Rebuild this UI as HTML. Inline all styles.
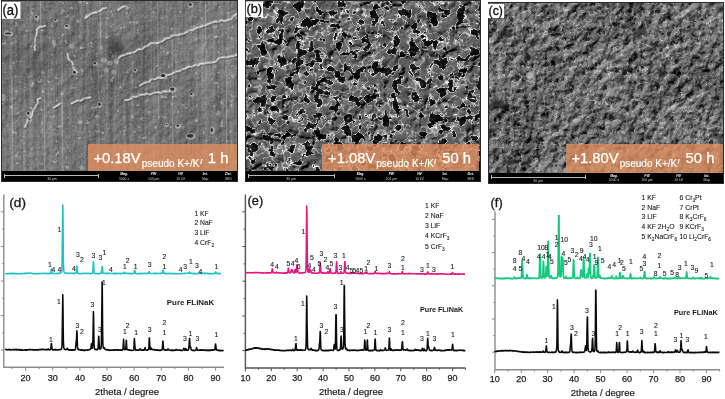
<!DOCTYPE html>
<html><head><meta charset="utf-8"><title>SEM and XRD</title>
<style>
html,body{margin:0;padding:0;background:#fff;}
body{width:725px;height:399px;overflow:hidden;position:relative;font-family:"Liberation Sans",Arial,sans-serif;}
.abs{position:absolute;}
svg text{font-family:"Liberation Sans",Arial,sans-serif;}
.tl{font-size:9px;fill:#222;stroke:#222;stroke-width:0.25px;}
.tt{font-size:9.5px;fill:#222;stroke:#222;stroke-width:0.2px;}
.pl{font-size:6.8px;fill:#222;stroke:#222;stroke-width:0.12px;}
.pn{font-size:14px;fill:#1a1a1a;stroke:#1a1a1a;stroke-width:0.35px;}
.pf{font-weight:bold;fill:#1a1a1a;}
.lg text{font-size:6.8px;fill:#222;stroke:#222;stroke-width:0.12px;}
.sb{font-size:4.8px;}
</style></head><body>
<style>
.sem{position:absolute;overflow:hidden;background:#777;}
.abs{position:absolute;}
.bar{position:absolute;background:#000;}
.org{position:absolute;background:rgba(226,143,93,0.78);}
.om{font-family:"Liberation Sans",sans-serif;font-size:14.8px;fill:#fff;stroke:#fff;stroke-width:0.25px;}
.os{font-family:"Liberation Sans",sans-serif;font-size:10px;fill:#fff;stroke:#fff;stroke-width:0.15px;}
.lb{font-family:"Liberation Sans",sans-serif;fill:#111;stroke:#111;stroke-width:0.35px;}
.ot{position:absolute;color:#fff;font-family:"Liberation Sans",sans-serif;white-space:nowrap;font-size:14px;line-height:16px;}
.ot span{font-size:9.6px;position:relative;top:3.5px;}
.lab{position:absolute;background:#fff;color:#111;font-family:"Liberation Sans",sans-serif;font-size:14px;line-height:15px;text-align:center;}
.inf{position:absolute;color:#cfcfcf;font-family:"Liberation Sans",sans-serif;font-size:3.4px;line-height:4.3px;text-align:center;white-space:nowrap;}
.inf b{color:#fff;font-style:italic;}
.sbar{position:absolute;height:1px;background:#bbb;}
.brd{position:absolute;border:1px solid #2a2a2a;box-sizing:border-box;}
</style>
<svg class="abs" style="left:1px;top:0" width="237" height="171" viewBox="1 0 237 171">
<defs><filter id="fa" x="0" y="0" width="100%" height="100%" color-interpolation-filters="sRGB">
  <feTurbulence type="fractalNoise" baseFrequency="0.3 0.006" numOctaves="3" seed="4"/>
  <feColorMatrix type="matrix" values="1 0 0 0 0  1 0 0 0 0  1 0 0 0 0  0 0 0 0 1"/>
  <feComponentTransfer result="st"><feFuncR type="table" tableValues="0.390 0.393 0.396 0.398 0.401 0.404 0.407 0.409 0.412 0.415 0.417 0.420 0.423 0.426 0.428 0.431 0.434 0.437 0.440 0.442 0.445 0.448 0.451 0.453 0.456 0.459 0.462 0.464 0.467 0.470 0.473 0.475 0.478 0.481 0.483 0.486 0.489 0.492 0.494 0.497 0.500 0.503 0.505 0.508 0.511 0.514 0.516 0.519 0.522 0.525 0.527 0.530 0.533 0.536 0.538 0.541 0.544 0.547 0.549 0.552 0.555 0.558 0.560 0.563 0.566 0.569 0.572 0.574 0.577 0.580 0.583 0.585 0.588 0.591 0.594 0.596 0.599 0.602 0.605 0.607 0.610"/><feFuncG type="table" tableValues="0.390 0.393 0.396 0.398 0.401 0.404 0.407 0.409 0.412 0.415 0.417 0.420 0.423 0.426 0.428 0.431 0.434 0.437 0.440 0.442 0.445 0.448 0.451 0.453 0.456 0.459 0.462 0.464 0.467 0.470 0.473 0.475 0.478 0.481 0.483 0.486 0.489 0.492 0.494 0.497 0.500 0.503 0.505 0.508 0.511 0.514 0.516 0.519 0.522 0.525 0.527 0.530 0.533 0.536 0.538 0.541 0.544 0.547 0.549 0.552 0.555 0.558 0.560 0.563 0.566 0.569 0.572 0.574 0.577 0.580 0.583 0.585 0.588 0.591 0.594 0.596 0.599 0.602 0.605 0.607 0.610"/><feFuncB type="table" tableValues="0.390 0.393 0.396 0.398 0.401 0.404 0.407 0.409 0.412 0.415 0.417 0.420 0.423 0.426 0.428 0.431 0.434 0.437 0.440 0.442 0.445 0.448 0.451 0.453 0.456 0.459 0.462 0.464 0.467 0.470 0.473 0.475 0.478 0.481 0.483 0.486 0.489 0.492 0.494 0.497 0.500 0.503 0.505 0.508 0.511 0.514 0.516 0.519 0.522 0.525 0.527 0.530 0.533 0.536 0.538 0.541 0.544 0.547 0.549 0.552 0.555 0.558 0.560 0.563 0.566 0.569 0.572 0.574 0.577 0.580 0.583 0.585 0.588 0.591 0.594 0.596 0.599 0.602 0.605 0.607 0.610"/><feFuncA type="linear" slope="0" intercept="1"/></feComponentTransfer>
  <feTurbulence type="fractalNoise" baseFrequency="0.12" numOctaves="3" seed="9" result="m"/>
  <feColorMatrix in="m" type="matrix" values="0 0 0 0 0  0 0 0 0 0  0 0 0 0 0  1 0 0 0 0" result="ma"/>
  <feDiffuseLighting in="ma" surfaceScale="1.0" diffuseConstant="0.5" lighting-color="#fff" result="lit"><feDistantLight azimuth="225" elevation="55"/></feDiffuseLighting>
  <feTurbulence type="fractalNoise" baseFrequency="0.012" numOctaves="2" seed="17"/>
  <feColorMatrix type="matrix" values="1 0 0 0 0  1 0 0 0 0  1 0 0 0 0  0 0 0 0 1"/>
  <feComponentTransfer result="lo"><feFuncR type="table" tableValues="0.420 0.422 0.424 0.426 0.428 0.430 0.432 0.434 0.436 0.438 0.440 0.442 0.444 0.446 0.448 0.450 0.452 0.454 0.456 0.458 0.460 0.462 0.464 0.466 0.468 0.470 0.472 0.474 0.476 0.478 0.480 0.482 0.484 0.486 0.488 0.490 0.492 0.494 0.496 0.498 0.500 0.502 0.504 0.506 0.508 0.510 0.512 0.514 0.516 0.518 0.520 0.522 0.524 0.526 0.528 0.530 0.532 0.534 0.536 0.538 0.540 0.542 0.544 0.546 0.548 0.550 0.552 0.554 0.556 0.558 0.560 0.562 0.564 0.566 0.568 0.570 0.572 0.574 0.576 0.578 0.580"/><feFuncG type="table" tableValues="0.420 0.422 0.424 0.426 0.428 0.430 0.432 0.434 0.436 0.438 0.440 0.442 0.444 0.446 0.448 0.450 0.452 0.454 0.456 0.458 0.460 0.462 0.464 0.466 0.468 0.470 0.472 0.474 0.476 0.478 0.480 0.482 0.484 0.486 0.488 0.490 0.492 0.494 0.496 0.498 0.500 0.502 0.504 0.506 0.508 0.510 0.512 0.514 0.516 0.518 0.520 0.522 0.524 0.526 0.528 0.530 0.532 0.534 0.536 0.538 0.540 0.542 0.544 0.546 0.548 0.550 0.552 0.554 0.556 0.558 0.560 0.562 0.564 0.566 0.568 0.570 0.572 0.574 0.576 0.578 0.580"/><feFuncB type="table" tableValues="0.420 0.422 0.424 0.426 0.428 0.430 0.432 0.434 0.436 0.438 0.440 0.442 0.444 0.446 0.448 0.450 0.452 0.454 0.456 0.458 0.460 0.462 0.464 0.466 0.468 0.470 0.472 0.474 0.476 0.478 0.480 0.482 0.484 0.486 0.488 0.490 0.492 0.494 0.496 0.498 0.500 0.502 0.504 0.506 0.508 0.510 0.512 0.514 0.516 0.518 0.520 0.522 0.524 0.526 0.528 0.530 0.532 0.534 0.536 0.538 0.540 0.542 0.544 0.546 0.548 0.550 0.552 0.554 0.556 0.558 0.560 0.562 0.564 0.566 0.568 0.570 0.572 0.574 0.576 0.578 0.580"/><feFuncA type="linear" slope="0" intercept="1"/></feComponentTransfer>
  <feTurbulence type="fractalNoise" baseFrequency="0.5" numOctaves="2" seed="3"/>
  <feColorMatrix type="matrix" values="1 0 0 0 0  1 0 0 0 0  1 0 0 0 0  0 0 0 0 1"/>
  <feComponentTransfer result="sp"><feFuncR type="table" tableValues="0.420 0.422 0.424 0.426 0.428 0.430 0.432 0.434 0.436 0.438 0.440 0.442 0.444 0.446 0.448 0.450 0.452 0.454 0.456 0.458 0.460 0.462 0.464 0.466 0.468 0.470 0.472 0.474 0.476 0.478 0.480 0.482 0.484 0.486 0.488 0.490 0.492 0.494 0.496 0.498 0.500 0.502 0.504 0.506 0.508 0.510 0.512 0.514 0.516 0.518 0.520 0.522 0.524 0.526 0.528 0.530 0.532 0.534 0.536 0.538 0.540 0.542 0.544 0.546 0.548 0.550 0.552 0.554 0.556 0.558 0.560 0.562 0.564 0.566 0.568 0.570 0.572 0.574 0.576 0.578 0.580"/><feFuncG type="table" tableValues="0.420 0.422 0.424 0.426 0.428 0.430 0.432 0.434 0.436 0.438 0.440 0.442 0.444 0.446 0.448 0.450 0.452 0.454 0.456 0.458 0.460 0.462 0.464 0.466 0.468 0.470 0.472 0.474 0.476 0.478 0.480 0.482 0.484 0.486 0.488 0.490 0.492 0.494 0.496 0.498 0.500 0.502 0.504 0.506 0.508 0.510 0.512 0.514 0.516 0.518 0.520 0.522 0.524 0.526 0.528 0.530 0.532 0.534 0.536 0.538 0.540 0.542 0.544 0.546 0.548 0.550 0.552 0.554 0.556 0.558 0.560 0.562 0.564 0.566 0.568 0.570 0.572 0.574 0.576 0.578 0.580"/><feFuncB type="table" tableValues="0.420 0.422 0.424 0.426 0.428 0.430 0.432 0.434 0.436 0.438 0.440 0.442 0.444 0.446 0.448 0.450 0.452 0.454 0.456 0.458 0.460 0.462 0.464 0.466 0.468 0.470 0.472 0.474 0.476 0.478 0.480 0.482 0.484 0.486 0.488 0.490 0.492 0.494 0.496 0.498 0.500 0.502 0.504 0.506 0.508 0.510 0.512 0.514 0.516 0.518 0.520 0.522 0.524 0.526 0.528 0.530 0.532 0.534 0.536 0.538 0.540 0.542 0.544 0.546 0.548 0.550 0.552 0.554 0.556 0.558 0.560 0.562 0.564 0.566 0.568 0.570 0.572 0.574 0.576 0.578 0.580"/><feFuncA type="linear" slope="0" intercept="1"/></feComponentTransfer>
  <feComposite in="st" in2="lit" operator="arithmetic" k2="1" k3="1" k4="-0.46" result="a1"/>
  <feComposite in="a1" in2="lo" operator="arithmetic" k2="1" k3="1" k4="-0.5" result="a2"/>
  <feComposite in="a2" in2="sp" operator="arithmetic" k2="1" k3="1" k4="-0.5" result="a3"/>
  <feTurbulence type="fractalNoise" baseFrequency="0.2" numOctaves="2" seed="55"/>
  <feColorMatrix type="matrix" values="1 0 0 0 0  1 0 0 0 0  1 0 0 0 0  0 0 0 0 1"/>
  <feComponentTransfer result="hs"><feFuncR type="table" tableValues="0.000 0.000 0.000 0.000 0.000 0.000 0.000 0.000 0.000 0.000 0.000 0.000 0.000 0.000 0.000 0.000 0.000 0.000 0.000 0.000 0.000 0.000 0.000 0.000 0.000 0.000 0.000 0.000 0.000 0.000 0.000 0.000 0.000 0.000 0.000 0.000 0.000 0.000 0.000 0.000 0.000 0.000 0.000 0.000 0.000 0.000 0.000 0.000 0.000 0.000 0.000 0.000 0.000 0.000 0.000 0.019 0.050 0.081 0.112 0.144 0.154 0.159 0.163 0.168 0.173 0.178 0.183 0.188 0.192 0.197 0.202 0.207 0.212 0.216 0.221 0.226 0.231 0.236 0.240 0.245 0.250"/><feFuncG type="table" tableValues="0.000 0.000 0.000 0.000 0.000 0.000 0.000 0.000 0.000 0.000 0.000 0.000 0.000 0.000 0.000 0.000 0.000 0.000 0.000 0.000 0.000 0.000 0.000 0.000 0.000 0.000 0.000 0.000 0.000 0.000 0.000 0.000 0.000 0.000 0.000 0.000 0.000 0.000 0.000 0.000 0.000 0.000 0.000 0.000 0.000 0.000 0.000 0.000 0.000 0.000 0.000 0.000 0.000 0.000 0.000 0.019 0.050 0.081 0.112 0.144 0.154 0.159 0.163 0.168 0.173 0.178 0.183 0.188 0.192 0.197 0.202 0.207 0.212 0.216 0.221 0.226 0.231 0.236 0.240 0.245 0.250"/><feFuncB type="table" tableValues="0.000 0.000 0.000 0.000 0.000 0.000 0.000 0.000 0.000 0.000 0.000 0.000 0.000 0.000 0.000 0.000 0.000 0.000 0.000 0.000 0.000 0.000 0.000 0.000 0.000 0.000 0.000 0.000 0.000 0.000 0.000 0.000 0.000 0.000 0.000 0.000 0.000 0.000 0.000 0.000 0.000 0.000 0.000 0.000 0.000 0.000 0.000 0.000 0.000 0.000 0.000 0.000 0.000 0.000 0.000 0.019 0.050 0.081 0.112 0.144 0.154 0.159 0.163 0.168 0.173 0.178 0.183 0.188 0.192 0.197 0.202 0.207 0.212 0.216 0.221 0.226 0.231 0.236 0.240 0.245 0.250"/><feFuncA type="linear" slope="0" intercept="1"/></feComponentTransfer>
  <feComposite in="a3" in2="hs" operator="arithmetic" k2="1" k3="1"/>
  <feGaussianBlur stdDeviation="0.4"/>
  <feComponentTransfer><feFuncA type="linear" slope="0" intercept="1"/></feComponentTransfer>
</filter><filter id="bl1" x="-20%" y="-20%" width="140%" height="140%"><feGaussianBlur stdDeviation="0.7"/></filter><filter id="bl05" x="-20%" y="-20%" width="140%" height="140%"><feGaussianBlur stdDeviation="0.4"/></filter><filter id="bl3" x="-50%" y="-50%" width="200%" height="200%"><feGaussianBlur stdDeviation="3"/></filter></defs>
<rect x="1" y="0" width="237" height="171" filter="url(#fa)"/>
<ellipse cx="114" cy="47" rx="8" ry="9" fill="#000" opacity="0.3" filter="url(#bl3)"/>
<ellipse cx="121" cy="50" rx="4" ry="6" fill="#000" opacity="0.25" filter="url(#bl3)"/>
<ellipse cx="40" cy="60" rx="30" ry="20" fill="#000" opacity="0.08" filter="url(#bl3)"/>
<g stroke="#ddd" stroke-width="0.9" opacity="0.35" filter="url(#bl05)"><line x1="40.5" y1="0" x2="41.3" y2="60"/><line x1="44" y1="70" x2="44.8" y2="171"/><line x1="157.5" y1="0" x2="158.3" y2="120"/><line x1="205.5" y1="0" x2="206.3" y2="171"/><line x1="172" y1="40" x2="172.8" y2="150"/><line x1="12" y1="80" x2="12.8" y2="171"/><line x1="100" y1="0" x2="100.8" y2="50"/><line x1="226" y1="60" x2="226.8" y2="171"/><line x1="62" y1="100" x2="62.8" y2="171"/></g>
<g fill="none" stroke="#000" stroke-width="1.6" stroke-linecap="round" stroke-linejoin="round" opacity="0.25" filter="url(#bl1)" transform="translate(0.6,1.4)"><polyline points="118.7,58.1 120.8,56.0 124.0,55.1 127.6,53.8 130.4,53.2 134.6,51.9 135.6,51.3 138.6,49.1 141.4,49.5 143.5,48.2 144.7,46.7 148.1,45.5 150.6,43.2 154.0,43.1 157.9,43.1 160.1,42.1 162.6,41.2 165.5,38.5 168.1,38.1 170.6,37.6 171.2,36.1 175.9,34.9 177.9,35.4 180.6,34.0 183.7,33.7 187.8,31.5 189.4,30.1 193.0,30.2 195.1,28.4 199.1,27.2 202.1,26.1 205.3,25.4 207.3,24.2 210.2,23.2 213.0,22.2 215.0,21.4 218.7,21.8 221.2,20.1 224.6,21.1 228.3,19.9 231.7,18.9 233.2,16.3 235.8,14.6 237.6,13.5"/><polyline points="139.9,85.4 144.0,83.1 146.2,82.3 149.4,81.8 151.1,79.2 155.4,79.1 158.0,77.4 160.2,78.0 162.6,77.6 166.6,74.9 167.6,75.0 172.1,73.8 173.4,72.9 175.8,71.6 179.6,71.1 182.2,69.4 185.1,68.7 188.3,66.7 192.4,66.7 195.1,64.9 198.8,65.5 200.0,63.6 204.2,63.6 207.7,62.7 210.5,62.8 212.4,62.3 215.8,61.7 217.3,60.0 218.6,58.2 222.4,57.4 224.2,57.3 228.3,57.1 230.6,56.3 234.3,55.9 237.6,54.2"/><polyline points="40.4,98.3 37.5,99.4 37.9,103.5 36.4,104.9 35.2,107.7 34.1,109.1 32.6,111.9 32.1,115.3 31.4,116.7 29.3,118.4 27.3,120.2 27.0,123.0 24.8,126.8"/><polyline points="53.7,107.7 57.3,105.5 60.9,103.1"/><polyline points="71.7,103.4 74.8,101.8 77.0,100.6 81.4,100.6 83.7,98.7 85.9,98.1 90.3,97.4"/><polyline points="125.0,100.2 128.2,99.7 130.9,98.8 132.3,97.1 136.9,96.6 139.6,95.0 141.6,94.6 144.6,94.7 146.3,93.4 149.7,94.6 153.5,92.8 156.4,92.5 158.8,92.2 160.5,93.1 163.7,91.2 168.1,91.9 170.0,90.6"/><polyline points="36.6,29.9 40.0,26.5 41.5,26.8 45.0,26.0"/><polyline points="36.6,29.3 37.1,31.6 36.6,34.7 35.4,37.5 35.1,39.9 34.9,41.7 35.3,45.7 34.5,46.9 35.0,50.0"/><polyline points="85.3,17.9 88.2,15.9 91.2,13.5 95.3,12.4 97.0,11.9 98.9,11.0 100.7,10.7 102.8,8.5 106.0,8.0"/><polyline points="67.6,53.7 68.1,57.7 69.0,60.0 72.3,62.2 73.1,66.2 73.9,68.9 76.7,72.2"/><polyline points="118.1,9.9 122.2,6.9 125.0,6.0"/></g><g fill="none" stroke="#d8d8d8" stroke-width="2.6" stroke-linecap="round" stroke-linejoin="round" opacity="0.45" filter="url(#bl1)"><polyline points="118.7,58.1 120.8,56.0 124.0,55.1 127.6,53.8 130.4,53.2 134.6,51.9 135.6,51.3 138.6,49.1 141.4,49.5 143.5,48.2 144.7,46.7 148.1,45.5 150.6,43.2 154.0,43.1 157.9,43.1 160.1,42.1 162.6,41.2 165.5,38.5 168.1,38.1 170.6,37.6 171.2,36.1 175.9,34.9 177.9,35.4 180.6,34.0 183.7,33.7 187.8,31.5 189.4,30.1 193.0,30.2 195.1,28.4 199.1,27.2 202.1,26.1 205.3,25.4 207.3,24.2 210.2,23.2 213.0,22.2 215.0,21.4 218.7,21.8 221.2,20.1 224.6,21.1 228.3,19.9 231.7,18.9 233.2,16.3 235.8,14.6 237.6,13.5"/><polyline points="139.9,85.4 144.0,83.1 146.2,82.3 149.4,81.8 151.1,79.2 155.4,79.1 158.0,77.4 160.2,78.0 162.6,77.6 166.6,74.9 167.6,75.0 172.1,73.8 173.4,72.9 175.8,71.6 179.6,71.1 182.2,69.4 185.1,68.7 188.3,66.7 192.4,66.7 195.1,64.9 198.8,65.5 200.0,63.6 204.2,63.6 207.7,62.7 210.5,62.8 212.4,62.3 215.8,61.7 217.3,60.0 218.6,58.2 222.4,57.4 224.2,57.3 228.3,57.1 230.6,56.3 234.3,55.9 237.6,54.2"/><polyline points="40.4,98.3 37.5,99.4 37.9,103.5 36.4,104.9 35.2,107.7 34.1,109.1 32.6,111.9 32.1,115.3 31.4,116.7 29.3,118.4 27.3,120.2 27.0,123.0 24.8,126.8"/><polyline points="53.7,107.7 57.3,105.5 60.9,103.1"/><polyline points="71.7,103.4 74.8,101.8 77.0,100.6 81.4,100.6 83.7,98.7 85.9,98.1 90.3,97.4"/><polyline points="125.0,100.2 128.2,99.7 130.9,98.8 132.3,97.1 136.9,96.6 139.6,95.0 141.6,94.6 144.6,94.7 146.3,93.4 149.7,94.6 153.5,92.8 156.4,92.5 158.8,92.2 160.5,93.1 163.7,91.2 168.1,91.9 170.0,90.6"/><polyline points="36.6,29.9 40.0,26.5 41.5,26.8 45.0,26.0"/><polyline points="36.6,29.3 37.1,31.6 36.6,34.7 35.4,37.5 35.1,39.9 34.9,41.7 35.3,45.7 34.5,46.9 35.0,50.0"/><polyline points="85.3,17.9 88.2,15.9 91.2,13.5 95.3,12.4 97.0,11.9 98.9,11.0 100.7,10.7 102.8,8.5 106.0,8.0"/><polyline points="67.6,53.7 68.1,57.7 69.0,60.0 72.3,62.2 73.1,66.2 73.9,68.9 76.7,72.2"/><polyline points="118.1,9.9 122.2,6.9 125.0,6.0"/></g>
<g fill="none" stroke="#f4f4f4" stroke-width="1.2" stroke-linecap="round" stroke-linejoin="round" stroke-dasharray="7 2 4 3 9 2 3 2" opacity="0.6" filter="url(#bl05)"><polyline points="118.7,58.1 120.8,56.0 124.0,55.1 127.6,53.8 130.4,53.2 134.6,51.9 135.6,51.3 138.6,49.1 141.4,49.5 143.5,48.2 144.7,46.7 148.1,45.5 150.6,43.2 154.0,43.1 157.9,43.1 160.1,42.1 162.6,41.2 165.5,38.5 168.1,38.1 170.6,37.6 171.2,36.1 175.9,34.9 177.9,35.4 180.6,34.0 183.7,33.7 187.8,31.5 189.4,30.1 193.0,30.2 195.1,28.4 199.1,27.2 202.1,26.1 205.3,25.4 207.3,24.2 210.2,23.2 213.0,22.2 215.0,21.4 218.7,21.8 221.2,20.1 224.6,21.1 228.3,19.9 231.7,18.9 233.2,16.3 235.8,14.6 237.6,13.5"/><polyline points="139.9,85.4 144.0,83.1 146.2,82.3 149.4,81.8 151.1,79.2 155.4,79.1 158.0,77.4 160.2,78.0 162.6,77.6 166.6,74.9 167.6,75.0 172.1,73.8 173.4,72.9 175.8,71.6 179.6,71.1 182.2,69.4 185.1,68.7 188.3,66.7 192.4,66.7 195.1,64.9 198.8,65.5 200.0,63.6 204.2,63.6 207.7,62.7 210.5,62.8 212.4,62.3 215.8,61.7 217.3,60.0 218.6,58.2 222.4,57.4 224.2,57.3 228.3,57.1 230.6,56.3 234.3,55.9 237.6,54.2"/><polyline points="40.4,98.3 37.5,99.4 37.9,103.5 36.4,104.9 35.2,107.7 34.1,109.1 32.6,111.9 32.1,115.3 31.4,116.7 29.3,118.4 27.3,120.2 27.0,123.0 24.8,126.8"/><polyline points="53.7,107.7 57.3,105.5 60.9,103.1"/><polyline points="71.7,103.4 74.8,101.8 77.0,100.6 81.4,100.6 83.7,98.7 85.9,98.1 90.3,97.4"/><polyline points="125.0,100.2 128.2,99.7 130.9,98.8 132.3,97.1 136.9,96.6 139.6,95.0 141.6,94.6 144.6,94.7 146.3,93.4 149.7,94.6 153.5,92.8 156.4,92.5 158.8,92.2 160.5,93.1 163.7,91.2 168.1,91.9 170.0,90.6"/><polyline points="36.6,29.9 40.0,26.5 41.5,26.8 45.0,26.0"/><polyline points="36.6,29.3 37.1,31.6 36.6,34.7 35.4,37.5 35.1,39.9 34.9,41.7 35.3,45.7 34.5,46.9 35.0,50.0"/><polyline points="85.3,17.9 88.2,15.9 91.2,13.5 95.3,12.4 97.0,11.9 98.9,11.0 100.7,10.7 102.8,8.5 106.0,8.0"/><polyline points="67.6,53.7 68.1,57.7 69.0,60.0 72.3,62.2 73.1,66.2 73.9,68.9 76.7,72.2"/><polyline points="118.1,9.9 122.2,6.9 125.0,6.0"/></g>
<g filter="url(#bl1)"><ellipse cx="54" cy="42" rx="2.1" ry="2.6" fill="#e6e6e6" opacity="0.35"/><ellipse cx="54.6" cy="45" rx="1.7999999999999998" ry="1.7999999999999998" fill="#e6e6e6" opacity="0.35"/><ellipse cx="72" cy="46" rx="2.8000000000000003" ry="2.6" fill="#e6e6e6" opacity="0.35"/><ellipse cx="80" cy="122.2" rx="2.6" ry="2.1" fill="#e6e6e6" opacity="0.35"/><ellipse cx="97" cy="116.6" rx="2.1" ry="1.7999999999999998" fill="#e6e6e6" opacity="0.35"/><ellipse cx="3.4" cy="97.4" rx="2.1" ry="3.6" fill="#e6e6e6" opacity="0.35"/><ellipse cx="218.5" cy="113.2" rx="2.1" ry="2.6" fill="#e6e6e6" opacity="0.35"/><ellipse cx="215" cy="27" rx="2.1" ry="1.7999999999999998" fill="#e6e6e6" opacity="0.35"/><ellipse cx="104" cy="60" rx="3.1" ry="2.6" fill="#e6e6e6" opacity="0.35"/><ellipse cx="110" cy="63" rx="2.6" ry="2.8000000000000003" fill="#e6e6e6" opacity="0.35"/><ellipse cx="116" cy="61" rx="2.6" ry="2.6" fill="#e6e6e6" opacity="0.35"/><ellipse cx="106" cy="70" rx="2.6" ry="2.6" fill="#e6e6e6" opacity="0.35"/><ellipse cx="114" cy="72" rx="2.8000000000000003" ry="2.4" fill="#e6e6e6" opacity="0.35"/></g>
<g><ellipse cx="36.6" cy="17.5" rx="2.7" ry="2.3" fill="#e0e0e0" opacity="0.45" filter="url(#bl1)"/><ellipse cx="36.1" cy="16.9" rx="1.2800000000000002" ry="0.96" fill="#1a1a1a" opacity="0.85" filter="url(#bl05)"/><ellipse cx="67.1" cy="26.6" rx="2.9000000000000004" ry="2.5" fill="#e0e0e0" opacity="0.45" filter="url(#bl1)"/><ellipse cx="66.6" cy="26" rx="1.4400000000000002" ry="1.1199999999999999" fill="#1a1a1a" opacity="0.85" filter="url(#bl05)"/><ellipse cx="55.8" cy="20.5" rx="2.4000000000000004" ry="2.1" fill="#e0e0e0" opacity="0.45" filter="url(#bl1)"/><ellipse cx="55.3" cy="19.9" rx="1.04" ry="0.8" fill="#1a1a1a" opacity="0.85" filter="url(#bl05)"/><ellipse cx="8.4" cy="34.0" rx="5.1" ry="2.3" fill="#e0e0e0" opacity="0.45" filter="url(#bl1)"/><ellipse cx="7.9" cy="33.4" rx="3.2" ry="0.96" fill="#1a1a1a" opacity="0.85" filter="url(#bl05)"/><ellipse cx="3.9" cy="42.4" rx="2.3" ry="2.1" fill="#e0e0e0" opacity="0.45" filter="url(#bl1)"/><ellipse cx="3.4" cy="41.8" rx="0.96" ry="0.8" fill="#1a1a1a" opacity="0.85" filter="url(#bl05)"/><ellipse cx="95.3" cy="63.800000000000004" rx="2.7" ry="2.5" fill="#e0e0e0" opacity="0.45" filter="url(#bl1)"/><ellipse cx="94.8" cy="63.2" rx="1.2800000000000002" ry="1.1199999999999999" fill="#1a1a1a" opacity="0.85" filter="url(#bl05)"/><ellipse cx="75.0" cy="72.8" rx="2.9000000000000004" ry="2.6" fill="#e0e0e0" opacity="0.45" filter="url(#bl1)"/><ellipse cx="74.5" cy="72.2" rx="1.4400000000000002" ry="1.2000000000000002" fill="#1a1a1a" opacity="0.85" filter="url(#bl05)"/><ellipse cx="40.0" cy="80.6" rx="2.3" ry="2.1" fill="#e0e0e0" opacity="0.45" filter="url(#bl1)"/><ellipse cx="39.5" cy="80" rx="0.96" ry="0.8" fill="#1a1a1a" opacity="0.85" filter="url(#bl05)"/><ellipse cx="28.7" cy="113.8" rx="2.6" ry="2.9000000000000004" fill="#e0e0e0" opacity="0.45" filter="url(#bl1)"/><ellipse cx="28.2" cy="113.2" rx="1.2000000000000002" ry="1.4400000000000002" fill="#1a1a1a" opacity="0.85" filter="url(#bl05)"/><ellipse cx="29.8" cy="119.5" rx="2.3" ry="2.3" fill="#e0e0e0" opacity="0.45" filter="url(#bl1)"/><ellipse cx="29.3" cy="118.9" rx="0.96" ry="0.96" fill="#1a1a1a" opacity="0.85" filter="url(#bl05)"/><ellipse cx="99.8" cy="104.8" rx="2.7" ry="3.1" fill="#e0e0e0" opacity="0.45" filter="url(#bl1)"/><ellipse cx="99.3" cy="104.2" rx="1.2800000000000002" ry="1.6" fill="#1a1a1a" opacity="0.85" filter="url(#bl05)"/><ellipse cx="172.7" cy="89.69999999999999" rx="3.6" ry="3.1" fill="#e0e0e0" opacity="0.45" filter="url(#bl1)"/><ellipse cx="172.2" cy="89.1" rx="2.0" ry="1.6" fill="#1a1a1a" opacity="0.85" filter="url(#bl05)"/><ellipse cx="191.9" cy="94.6" rx="2.5" ry="2.3" fill="#e0e0e0" opacity="0.45" filter="url(#bl1)"/><ellipse cx="191.4" cy="94" rx="1.1199999999999999" ry="0.96" fill="#1a1a1a" opacity="0.85" filter="url(#bl05)"/><ellipse cx="178.3" cy="126.19999999999999" rx="2.9000000000000004" ry="2.4000000000000004" fill="#e0e0e0" opacity="0.45" filter="url(#bl1)"/><ellipse cx="177.8" cy="125.6" rx="1.4400000000000002" ry="1.04" fill="#1a1a1a" opacity="0.85" filter="url(#bl05)"/><ellipse cx="190.7" cy="136.4" rx="5.1" ry="3.3000000000000003" fill="#e0e0e0" opacity="0.45" filter="url(#bl1)"/><ellipse cx="190.2" cy="135.8" rx="3.2" ry="1.7600000000000002" fill="#1a1a1a" opacity="0.85" filter="url(#bl05)"/><ellipse cx="212.2" cy="130.7" rx="2.6" ry="3.6" fill="#e0e0e0" opacity="0.45" filter="url(#bl1)"/><ellipse cx="211.7" cy="130.1" rx="1.2000000000000002" ry="2.0" fill="#1a1a1a" opacity="0.85" filter="url(#bl05)"/><ellipse cx="167.0" cy="125.1" rx="2.3" ry="2.1" fill="#e0e0e0" opacity="0.45" filter="url(#bl1)"/><ellipse cx="166.5" cy="124.5" rx="0.96" ry="0.8" fill="#1a1a1a" opacity="0.85" filter="url(#bl05)"/><ellipse cx="163.6" cy="76.19999999999999" rx="4.1" ry="3.1" fill="#e0e0e0" opacity="0.45" filter="url(#bl1)"/><ellipse cx="163.1" cy="75.6" rx="2.4000000000000004" ry="1.6" fill="#1a1a1a" opacity="0.85" filter="url(#bl05)"/><ellipse cx="190.7" cy="5.1" rx="3.1" ry="2.6" fill="#e0e0e0" opacity="0.45" filter="url(#bl1)"/><ellipse cx="190.2" cy="4.5" rx="1.6" ry="1.2000000000000002" fill="#1a1a1a" opacity="0.85" filter="url(#bl05)"/><ellipse cx="135.5" cy="70.6" rx="2.5" ry="2.3" fill="#e0e0e0" opacity="0.45" filter="url(#bl1)"/><ellipse cx="135" cy="70" rx="1.1199999999999999" ry="0.96" fill="#1a1a1a" opacity="0.85" filter="url(#bl05)"/></g>
</svg>
<div class="bar" style="left:1px;top:171px;width:237px;height:11px;"></div>
<div class="brd" style="left:1px;top:0;width:237px;height:182px;"></div>
<div class="org" style="left:88px;top:144px;width:148.5px;height:27px;"></div>
<div class="sbar" style="left:4px;top:175px;width:95px;"></div>
<div class="sbar" style="left:4px;top:173.5px;width:1px;height:4px;"></div><div class="sbar" style="left:98px;top:173.5px;width:1px;height:4px;"></div>
<div class="inf" style="left:42px;top:177.2px;width:20px;">30 µm</div>
<div class="inf" style="left:114px;top:172.3px;width:20px;"><b>Mag.</b><br>5000 x</div>
<div class="inf" style="left:143.7px;top:172.3px;width:20px;"><b>FW</b><br>104 µm</div>
<div class="inf" style="left:170.7px;top:172.3px;width:20px;"><b>HV</b><br>10 kV</div>
<div class="inf" style="left:195.2px;top:172.3px;width:20px;"><b>Int.</b><br>Map</div>
<div class="inf" style="left:218.4px;top:172.3px;width:20px;"><b>Det.</b><br>SED</div>
<svg class="abs" style="left:245px;top:0" width="236" height="171" viewBox="245 0 236 171">
<defs><filter id="fb" x="0" y="0" width="100%" height="100%" color-interpolation-filters="sRGB">
  <feTurbulence type="fractalNoise" baseFrequency="0.06" numOctaves="4" seed="11" result="n1"/>
  <feColorMatrix in="n1" type="matrix" values="1 0 0 0 0  1 0 0 0 0  1 0 0 0 0  0 0 0 0 1" result="n1g"/>
  <feComponentTransfer in="n1g" result="h"><feFuncR type="table" tableValues="0.000 0.002 0.004 0.006 0.007 0.009 0.011 0.013 0.015 0.017 0.018 0.020 0.022 0.024 0.026 0.028 0.029 0.031 0.033 0.035 0.037 0.039 0.040 0.042 0.044 0.046 0.048 0.050 0.100 0.162 0.225 0.288 0.350 0.412 0.459 0.483 0.506 0.530 0.553 0.577 0.600 0.615 0.630 0.645 0.660 0.675 0.690 0.705 0.720 0.726 0.731 0.737 0.743 0.748 0.754 0.759 0.765 0.771 0.776 0.782 0.787 0.793 0.799 0.804 0.810 0.816 0.821 0.827 0.833 0.838 0.844 0.849 0.855 0.861 0.866 0.872 0.877 0.883 0.889 0.894 0.900"/><feFuncG type="table" tableValues="0.000 0.002 0.004 0.006 0.007 0.009 0.011 0.013 0.015 0.017 0.018 0.020 0.022 0.024 0.026 0.028 0.029 0.031 0.033 0.035 0.037 0.039 0.040 0.042 0.044 0.046 0.048 0.050 0.100 0.162 0.225 0.288 0.350 0.412 0.459 0.483 0.506 0.530 0.553 0.577 0.600 0.615 0.630 0.645 0.660 0.675 0.690 0.705 0.720 0.726 0.731 0.737 0.743 0.748 0.754 0.759 0.765 0.771 0.776 0.782 0.787 0.793 0.799 0.804 0.810 0.816 0.821 0.827 0.833 0.838 0.844 0.849 0.855 0.861 0.866 0.872 0.877 0.883 0.889 0.894 0.900"/><feFuncB type="table" tableValues="0.000 0.002 0.004 0.006 0.007 0.009 0.011 0.013 0.015 0.017 0.018 0.020 0.022 0.024 0.026 0.028 0.029 0.031 0.033 0.035 0.037 0.039 0.040 0.042 0.044 0.046 0.048 0.050 0.100 0.162 0.225 0.288 0.350 0.412 0.459 0.483 0.506 0.530 0.553 0.577 0.600 0.615 0.630 0.645 0.660 0.675 0.690 0.705 0.720 0.726 0.731 0.737 0.743 0.748 0.754 0.759 0.765 0.771 0.776 0.782 0.787 0.793 0.799 0.804 0.810 0.816 0.821 0.827 0.833 0.838 0.844 0.849 0.855 0.861 0.866 0.872 0.877 0.883 0.889 0.894 0.900"/><feFuncA type="linear" slope="0" intercept="1"/></feComponentTransfer>
  <feColorMatrix in="h" type="matrix" values="0 0 0 0 0  0 0 0 0 0  0 0 0 0 0  1 0 0 0 0" result="ha"/>
  <feDiffuseLighting in="ha" surfaceScale="2.5" diffuseConstant="0.7" lighting-color="#fff" result="lit"><feDistantLight azimuth="235" elevation="50"/></feDiffuseLighting>
  <feTurbulence type="fractalNoise" baseFrequency="0.105" numOctaves="3" seed="19" result="n3"/>
  <feColorMatrix in="n3" type="matrix" values="1 0 0 0 0  1 0 0 0 0  1 0 0 0 0  0 0 0 0 1" result="n3g"/>
  <feComponentTransfer in="n3g" result="mask"><feFuncR type="table" tableValues="0.200 0.202 0.205 0.207 0.209 0.211 0.214 0.216 0.218 0.220 0.223 0.225 0.227 0.230 0.232 0.234 0.236 0.239 0.241 0.243 0.245 0.248 0.250 0.252 0.255 0.257 0.259 0.286 0.329 0.372 0.415 0.479 0.621 0.764 0.871 0.925 0.979 1.000 1.000 1.000 1.000 1.000 1.000 1.000 1.000 1.000 1.000 1.000 1.000 1.000 1.000 1.000 1.000 1.000 1.000 1.000 1.000 1.000 1.000 1.000 1.000 1.000 1.000 1.000 1.000 1.000 1.000 1.000 1.000 1.000 1.000 1.000 1.000 1.000 1.000 1.000 1.000 1.000 1.000 1.000 1.000"/><feFuncG type="table" tableValues="0.200 0.202 0.205 0.207 0.209 0.211 0.214 0.216 0.218 0.220 0.223 0.225 0.227 0.230 0.232 0.234 0.236 0.239 0.241 0.243 0.245 0.248 0.250 0.252 0.255 0.257 0.259 0.286 0.329 0.372 0.415 0.479 0.621 0.764 0.871 0.925 0.979 1.000 1.000 1.000 1.000 1.000 1.000 1.000 1.000 1.000 1.000 1.000 1.000 1.000 1.000 1.000 1.000 1.000 1.000 1.000 1.000 1.000 1.000 1.000 1.000 1.000 1.000 1.000 1.000 1.000 1.000 1.000 1.000 1.000 1.000 1.000 1.000 1.000 1.000 1.000 1.000 1.000 1.000 1.000 1.000"/><feFuncB type="table" tableValues="0.200 0.202 0.205 0.207 0.209 0.211 0.214 0.216 0.218 0.220 0.223 0.225 0.227 0.230 0.232 0.234 0.236 0.239 0.241 0.243 0.245 0.248 0.250 0.252 0.255 0.257 0.259 0.286 0.329 0.372 0.415 0.479 0.621 0.764 0.871 0.925 0.979 1.000 1.000 1.000 1.000 1.000 1.000 1.000 1.000 1.000 1.000 1.000 1.000 1.000 1.000 1.000 1.000 1.000 1.000 1.000 1.000 1.000 1.000 1.000 1.000 1.000 1.000 1.000 1.000 1.000 1.000 1.000 1.000 1.000 1.000 1.000 1.000 1.000 1.000 1.000 1.000 1.000 1.000 1.000 1.000"/><feFuncA type="linear" slope="0" intercept="1"/></feComponentTransfer>
  <feComponentTransfer in="n3g" result="rim0"><feFuncR type="table" tableValues="0.000 0.000 0.000 0.000 0.000 0.000 0.000 0.000 0.000 0.000 0.000 0.000 0.000 0.000 0.000 0.000 0.000 0.000 0.000 0.000 0.000 0.000 0.000 0.000 0.000 0.000 0.000 0.000 0.000 0.000 0.000 0.000 0.143 0.321 0.500 0.371 0.243 0.133 0.098 0.063 0.028 0.000 0.000 0.000 0.000 0.000 0.000 0.000 0.000 0.000 0.000 0.000 0.000 0.000 0.000 0.000 0.000 0.000 0.000 0.000 0.000 0.000 0.000 0.000 0.000 0.000 0.000 0.000 0.000 0.000 0.000 0.000 0.000 0.000 0.000 0.000 0.000 0.000 0.000 0.000 0.000"/><feFuncG type="table" tableValues="0.000 0.000 0.000 0.000 0.000 0.000 0.000 0.000 0.000 0.000 0.000 0.000 0.000 0.000 0.000 0.000 0.000 0.000 0.000 0.000 0.000 0.000 0.000 0.000 0.000 0.000 0.000 0.000 0.000 0.000 0.000 0.000 0.143 0.321 0.500 0.371 0.243 0.133 0.098 0.063 0.028 0.000 0.000 0.000 0.000 0.000 0.000 0.000 0.000 0.000 0.000 0.000 0.000 0.000 0.000 0.000 0.000 0.000 0.000 0.000 0.000 0.000 0.000 0.000 0.000 0.000 0.000 0.000 0.000 0.000 0.000 0.000 0.000 0.000 0.000 0.000 0.000 0.000 0.000 0.000 0.000"/><feFuncB type="table" tableValues="0.000 0.000 0.000 0.000 0.000 0.000 0.000 0.000 0.000 0.000 0.000 0.000 0.000 0.000 0.000 0.000 0.000 0.000 0.000 0.000 0.000 0.000 0.000 0.000 0.000 0.000 0.000 0.000 0.000 0.000 0.000 0.000 0.143 0.321 0.500 0.371 0.243 0.133 0.098 0.063 0.028 0.000 0.000 0.000 0.000 0.000 0.000 0.000 0.000 0.000 0.000 0.000 0.000 0.000 0.000 0.000 0.000 0.000 0.000 0.000 0.000 0.000 0.000 0.000 0.000 0.000 0.000 0.000 0.000 0.000 0.000 0.000 0.000 0.000 0.000 0.000 0.000 0.000 0.000 0.000 0.000"/><feFuncA type="linear" slope="0" intercept="1"/></feComponentTransfer>
  <feGaussianBlur in="rim0" stdDeviation="0.4" result="rim"/>
  <feTurbulence type="fractalNoise" baseFrequency="0.06" numOctaves="3" seed="23"/>
  <feColorMatrix type="matrix" values="1 0 0 0 0  1 0 0 0 0  1 0 0 0 0  0 0 0 0 1"/>
  <feComponentTransfer result="ridge0"><feFuncR type="table" tableValues="0.000 0.000 0.000 0.000 0.000 0.000 0.000 0.000 0.000 0.000 0.000 0.000 0.000 0.000 0.000 0.000 0.000 0.000 0.000 0.000 0.000 0.000 0.000 0.000 0.000 0.000 0.000 0.000 0.000 0.000 0.000 0.000 0.000 0.000 0.000 0.000 0.000 0.050 0.133 0.217 0.300 0.217 0.133 0.050 0.000 0.000 0.000 0.000 0.000 0.000 0.000 0.000 0.000 0.000 0.000 0.000 0.000 0.000 0.000 0.000 0.000 0.000 0.000 0.000 0.000 0.000 0.000 0.000 0.000 0.000 0.000 0.000 0.000 0.000 0.000 0.000 0.000 0.000 0.000 0.000 0.000"/><feFuncG type="table" tableValues="0.000 0.000 0.000 0.000 0.000 0.000 0.000 0.000 0.000 0.000 0.000 0.000 0.000 0.000 0.000 0.000 0.000 0.000 0.000 0.000 0.000 0.000 0.000 0.000 0.000 0.000 0.000 0.000 0.000 0.000 0.000 0.000 0.000 0.000 0.000 0.000 0.000 0.050 0.133 0.217 0.300 0.217 0.133 0.050 0.000 0.000 0.000 0.000 0.000 0.000 0.000 0.000 0.000 0.000 0.000 0.000 0.000 0.000 0.000 0.000 0.000 0.000 0.000 0.000 0.000 0.000 0.000 0.000 0.000 0.000 0.000 0.000 0.000 0.000 0.000 0.000 0.000 0.000 0.000 0.000 0.000"/><feFuncB type="table" tableValues="0.000 0.000 0.000 0.000 0.000 0.000 0.000 0.000 0.000 0.000 0.000 0.000 0.000 0.000 0.000 0.000 0.000 0.000 0.000 0.000 0.000 0.000 0.000 0.000 0.000 0.000 0.000 0.000 0.000 0.000 0.000 0.000 0.000 0.000 0.000 0.000 0.000 0.050 0.133 0.217 0.300 0.217 0.133 0.050 0.000 0.000 0.000 0.000 0.000 0.000 0.000 0.000 0.000 0.000 0.000 0.000 0.000 0.000 0.000 0.000 0.000 0.000 0.000 0.000 0.000 0.000 0.000 0.000 0.000 0.000 0.000 0.000 0.000 0.000 0.000 0.000 0.000 0.000 0.000 0.000 0.000"/><feFuncA type="linear" slope="0" intercept="1"/></feComponentTransfer>
  <feGaussianBlur in="ridge0" stdDeviation="0.7" result="ridge"/>
  <feTurbulence type="fractalNoise" baseFrequency="0.45" numOctaves="1" seed="2"/>
  <feColorMatrix type="matrix" values="1 0 0 0 0  1 0 0 0 0  1 0 0 0 0  0 0 0 0 1"/>
  <feComponentTransfer result="sp"><feFuncR type="table" tableValues="0.380 0.384 0.388 0.392 0.396 0.400 0.404 0.408 0.412 0.416 0.420 0.424 0.428 0.432 0.436 0.440 0.444 0.448 0.452 0.456 0.460 0.464 0.468 0.472 0.476 0.480 0.484 0.488 0.492 0.496 0.500 0.504 0.508 0.512 0.516 0.520 0.524 0.528 0.532 0.536 0.540 0.544 0.548 0.552 0.556 0.560 0.564 0.568 0.572 0.576 0.580 0.584 0.588 0.592 0.596 0.600 0.604 0.608 0.612 0.616 0.620 0.624 0.628 0.632 0.636 0.640 0.644 0.648 0.652 0.656 0.660 0.664 0.668 0.672 0.676 0.680 0.684 0.688 0.692 0.696 0.700"/><feFuncG type="table" tableValues="0.380 0.384 0.388 0.392 0.396 0.400 0.404 0.408 0.412 0.416 0.420 0.424 0.428 0.432 0.436 0.440 0.444 0.448 0.452 0.456 0.460 0.464 0.468 0.472 0.476 0.480 0.484 0.488 0.492 0.496 0.500 0.504 0.508 0.512 0.516 0.520 0.524 0.528 0.532 0.536 0.540 0.544 0.548 0.552 0.556 0.560 0.564 0.568 0.572 0.576 0.580 0.584 0.588 0.592 0.596 0.600 0.604 0.608 0.612 0.616 0.620 0.624 0.628 0.632 0.636 0.640 0.644 0.648 0.652 0.656 0.660 0.664 0.668 0.672 0.676 0.680 0.684 0.688 0.692 0.696 0.700"/><feFuncB type="table" tableValues="0.380 0.384 0.388 0.392 0.396 0.400 0.404 0.408 0.412 0.416 0.420 0.424 0.428 0.432 0.436 0.440 0.444 0.448 0.452 0.456 0.460 0.464 0.468 0.472 0.476 0.480 0.484 0.488 0.492 0.496 0.500 0.504 0.508 0.512 0.516 0.520 0.524 0.528 0.532 0.536 0.540 0.544 0.548 0.552 0.556 0.560 0.564 0.568 0.572 0.576 0.580 0.584 0.588 0.592 0.596 0.600 0.604 0.608 0.612 0.616 0.620 0.624 0.628 0.632 0.636 0.640 0.644 0.648 0.652 0.656 0.660 0.664 0.668 0.672 0.676 0.680 0.684 0.688 0.692 0.696 0.700"/><feFuncA type="linear" slope="0" intercept="1"/></feComponentTransfer>
  <feComposite in="lit" in2="mask" operator="arithmetic" k1="0.78" result="a1"/>
  <feComposite in="ridge" in2="mask" operator="arithmetic" k1="1" result="ridgem"/>
  <feComposite in="a1" in2="ridgem" operator="arithmetic" k2="1" k3="1" result="a2"/>
  <feComposite in="a2" in2="rim" operator="arithmetic" k2="1" k3="1" result="a3"/>
  <feComposite in="a3" in2="sp" operator="arithmetic" k2="1" k3="0.5" k4="-0.32"/>
  <feGaussianBlur stdDeviation="0.35"/>
  <feComponentTransfer><feFuncA type="linear" slope="0" intercept="1"/></feComponentTransfer>
</filter></defs>
<rect x="245" y="0" width="236" height="171" filter="url(#fb)"/>
</svg>
<div class="bar" style="left:245px;top:171px;width:236px;height:11px;"></div>
<div class="brd" style="left:245px;top:0;width:236px;height:182px;"></div>
<div class="org" style="left:322.2px;top:144px;width:157.3px;height:27px;"></div>
<div class="sbar" style="left:248px;top:175px;width:87px;"></div>
<div class="sbar" style="left:248px;top:173.5px;width:1px;height:4px;"></div><div class="sbar" style="left:334px;top:173.5px;width:1px;height:4px;"></div>
<div class="inf" style="left:281px;top:177.2px;width:20px;">30 µm</div>
<div class="inf" style="left:350.5px;top:172.3px;width:20px;"><b>Mag.</b><br>5000 x</div>
<div class="inf" style="left:381.3px;top:172.3px;width:20px;"><b>FW</b><br>104 µm</div>
<div class="inf" style="left:409.5px;top:172.3px;width:20px;"><b>HV</b><br>10 kV</div>
<div class="inf" style="left:435px;top:172.3px;width:20px;"><b>Int.</b><br>Map</div>
<div class="inf" style="left:460.8px;top:172.3px;width:20px;"><b>Det.</b><br>SED</div>
<svg class="abs" style="left:488px;top:2px" width="236" height="171" viewBox="488 2 236 171">
<defs><filter id="fc" x="0" y="0" width="100%" height="100%" color-interpolation-filters="sRGB">
  <feTurbulence type="fractalNoise" baseFrequency="0.13" numOctaves="4" seed="31" result="n"/>
  <feColorMatrix in="n" type="matrix" values="0 0 0 0 0  0 0 0 0 0  0 0 0 0 0  1 0 0 0 0" result="na"/>
  <feDiffuseLighting in="na" surfaceScale="3.2" diffuseConstant="0.62" lighting-color="#fff" result="lit"><feDistantLight azimuth="225" elevation="48"/></feDiffuseLighting>
  <feColorMatrix in="n" type="matrix" values="1 0 0 0 0  1 0 0 0 0  1 0 0 0 0  0 0 0 0 1" result="ng"/>
  <feComponentTransfer in="ng" result="mask"><feFuncR type="table" tableValues="0.250 0.255 0.260 0.265 0.270 0.275 0.280 0.285 0.290 0.295 0.300 0.305 0.310 0.315 0.320 0.325 0.330 0.335 0.340 0.345 0.350 0.454 0.558 0.662 0.767 0.858 0.895 0.933 0.970 1.000 1.000 1.000 1.000 1.000 1.000 1.000 1.000 1.000 1.000 1.000 1.000 1.000 1.000 1.000 1.000 1.000 1.000 1.000 1.000 1.000 1.000 1.000 1.000 1.000 1.000 1.000 1.000 1.000 1.000 1.000 1.000 1.000 1.000 1.000 1.000 1.000 1.000 1.000 1.000 1.000 1.000 1.000 1.000 1.000 1.000 1.000 1.000 1.000 1.000 1.000 1.000"/><feFuncG type="table" tableValues="0.250 0.255 0.260 0.265 0.270 0.275 0.280 0.285 0.290 0.295 0.300 0.305 0.310 0.315 0.320 0.325 0.330 0.335 0.340 0.345 0.350 0.454 0.558 0.662 0.767 0.858 0.895 0.933 0.970 1.000 1.000 1.000 1.000 1.000 1.000 1.000 1.000 1.000 1.000 1.000 1.000 1.000 1.000 1.000 1.000 1.000 1.000 1.000 1.000 1.000 1.000 1.000 1.000 1.000 1.000 1.000 1.000 1.000 1.000 1.000 1.000 1.000 1.000 1.000 1.000 1.000 1.000 1.000 1.000 1.000 1.000 1.000 1.000 1.000 1.000 1.000 1.000 1.000 1.000 1.000 1.000"/><feFuncB type="table" tableValues="0.250 0.255 0.260 0.265 0.270 0.275 0.280 0.285 0.290 0.295 0.300 0.305 0.310 0.315 0.320 0.325 0.330 0.335 0.340 0.345 0.350 0.454 0.558 0.662 0.767 0.858 0.895 0.933 0.970 1.000 1.000 1.000 1.000 1.000 1.000 1.000 1.000 1.000 1.000 1.000 1.000 1.000 1.000 1.000 1.000 1.000 1.000 1.000 1.000 1.000 1.000 1.000 1.000 1.000 1.000 1.000 1.000 1.000 1.000 1.000 1.000 1.000 1.000 1.000 1.000 1.000 1.000 1.000 1.000 1.000 1.000 1.000 1.000 1.000 1.000 1.000 1.000 1.000 1.000 1.000 1.000"/><feFuncA type="linear" slope="0" intercept="1"/></feComponentTransfer>
  <feTurbulence type="fractalNoise" baseFrequency="0.09" numOctaves="3" seed="63"/>
  <feColorMatrix type="matrix" values="1 0 0 0 0  1 0 0 0 0  1 0 0 0 0  0 0 0 0 1"/>
  <feComponentTransfer result="rg0"><feFuncR type="table" tableValues="0.000 0.000 0.000 0.000 0.000 0.000 0.000 0.000 0.000 0.000 0.000 0.000 0.000 0.000 0.000 0.000 0.000 0.000 0.000 0.000 0.000 0.000 0.000 0.000 0.000 0.000 0.000 0.000 0.000 0.000 0.000 0.000 0.000 0.000 0.000 0.000 0.000 0.014 0.082 0.151 0.220 0.151 0.082 0.014 0.000 0.000 0.000 0.000 0.000 0.000 0.000 0.000 0.000 0.000 0.000 0.000 0.000 0.000 0.000 0.000 0.000 0.000 0.000 0.000 0.000 0.000 0.000 0.000 0.000 0.000 0.000 0.000 0.000 0.000 0.000 0.000 0.000 0.000 0.000 0.000 0.000"/><feFuncG type="table" tableValues="0.000 0.000 0.000 0.000 0.000 0.000 0.000 0.000 0.000 0.000 0.000 0.000 0.000 0.000 0.000 0.000 0.000 0.000 0.000 0.000 0.000 0.000 0.000 0.000 0.000 0.000 0.000 0.000 0.000 0.000 0.000 0.000 0.000 0.000 0.000 0.000 0.000 0.014 0.082 0.151 0.220 0.151 0.082 0.014 0.000 0.000 0.000 0.000 0.000 0.000 0.000 0.000 0.000 0.000 0.000 0.000 0.000 0.000 0.000 0.000 0.000 0.000 0.000 0.000 0.000 0.000 0.000 0.000 0.000 0.000 0.000 0.000 0.000 0.000 0.000 0.000 0.000 0.000 0.000 0.000 0.000"/><feFuncB type="table" tableValues="0.000 0.000 0.000 0.000 0.000 0.000 0.000 0.000 0.000 0.000 0.000 0.000 0.000 0.000 0.000 0.000 0.000 0.000 0.000 0.000 0.000 0.000 0.000 0.000 0.000 0.000 0.000 0.000 0.000 0.000 0.000 0.000 0.000 0.000 0.000 0.000 0.000 0.014 0.082 0.151 0.220 0.151 0.082 0.014 0.000 0.000 0.000 0.000 0.000 0.000 0.000 0.000 0.000 0.000 0.000 0.000 0.000 0.000 0.000 0.000 0.000 0.000 0.000 0.000 0.000 0.000 0.000 0.000 0.000 0.000 0.000 0.000 0.000 0.000 0.000 0.000 0.000 0.000 0.000 0.000 0.000"/><feFuncA type="linear" slope="0" intercept="1"/></feComponentTransfer>
  <feGaussianBlur in="rg0" stdDeviation="0.5" result="rg"/>
  <feTurbulence type="fractalNoise" baseFrequency="0.55" numOctaves="2" seed="8"/>
  <feColorMatrix type="matrix" values="1 0 0 0 0  1 0 0 0 0  1 0 0 0 0  0 0 0 0 1"/>
  <feComponentTransfer result="sp"><feFuncR type="table" tableValues="0.360 0.363 0.367 0.370 0.374 0.378 0.381 0.385 0.388 0.392 0.395 0.398 0.402 0.405 0.409 0.412 0.416 0.419 0.423 0.426 0.430 0.433 0.437 0.441 0.444 0.448 0.451 0.455 0.458 0.462 0.465 0.469 0.472 0.475 0.479 0.482 0.486 0.490 0.493 0.496 0.500 0.504 0.508 0.512 0.516 0.520 0.524 0.528 0.532 0.536 0.540 0.544 0.548 0.552 0.556 0.560 0.564 0.568 0.572 0.576 0.580 0.584 0.588 0.592 0.596 0.600 0.604 0.608 0.612 0.616 0.620 0.624 0.628 0.632 0.636 0.640 0.644 0.648 0.652 0.656 0.660"/><feFuncG type="table" tableValues="0.360 0.363 0.367 0.370 0.374 0.378 0.381 0.385 0.388 0.392 0.395 0.398 0.402 0.405 0.409 0.412 0.416 0.419 0.423 0.426 0.430 0.433 0.437 0.441 0.444 0.448 0.451 0.455 0.458 0.462 0.465 0.469 0.472 0.475 0.479 0.482 0.486 0.490 0.493 0.496 0.500 0.504 0.508 0.512 0.516 0.520 0.524 0.528 0.532 0.536 0.540 0.544 0.548 0.552 0.556 0.560 0.564 0.568 0.572 0.576 0.580 0.584 0.588 0.592 0.596 0.600 0.604 0.608 0.612 0.616 0.620 0.624 0.628 0.632 0.636 0.640 0.644 0.648 0.652 0.656 0.660"/><feFuncB type="table" tableValues="0.360 0.363 0.367 0.370 0.374 0.378 0.381 0.385 0.388 0.392 0.395 0.398 0.402 0.405 0.409 0.412 0.416 0.419 0.423 0.426 0.430 0.433 0.437 0.441 0.444 0.448 0.451 0.455 0.458 0.462 0.465 0.469 0.472 0.475 0.479 0.482 0.486 0.490 0.493 0.496 0.500 0.504 0.508 0.512 0.516 0.520 0.524 0.528 0.532 0.536 0.540 0.544 0.548 0.552 0.556 0.560 0.564 0.568 0.572 0.576 0.580 0.584 0.588 0.592 0.596 0.600 0.604 0.608 0.612 0.616 0.620 0.624 0.628 0.632 0.636 0.640 0.644 0.648 0.652 0.656 0.660"/><feFuncA type="linear" slope="0" intercept="1"/></feComponentTransfer>
  <feTurbulence type="fractalNoise" baseFrequency="0.02" numOctaves="2" seed="41"/>
  <feColorMatrix type="matrix" values="1 0 0 0 0  1 0 0 0 0  1 0 0 0 0  0 0 0 0 1"/>
  <feComponentTransfer result="lo"><feFuncR type="table" tableValues="0.380 0.383 0.386 0.389 0.392 0.395 0.398 0.401 0.404 0.407 0.410 0.413 0.416 0.419 0.422 0.425 0.428 0.431 0.434 0.437 0.440 0.443 0.446 0.449 0.452 0.455 0.458 0.461 0.464 0.467 0.470 0.473 0.476 0.479 0.482 0.485 0.488 0.491 0.494 0.497 0.500 0.503 0.506 0.509 0.512 0.515 0.518 0.521 0.524 0.527 0.530 0.533 0.536 0.539 0.542 0.545 0.548 0.551 0.554 0.557 0.560 0.563 0.566 0.569 0.572 0.575 0.578 0.581 0.584 0.587 0.590 0.593 0.596 0.599 0.602 0.605 0.608 0.611 0.614 0.617 0.620"/><feFuncG type="table" tableValues="0.380 0.383 0.386 0.389 0.392 0.395 0.398 0.401 0.404 0.407 0.410 0.413 0.416 0.419 0.422 0.425 0.428 0.431 0.434 0.437 0.440 0.443 0.446 0.449 0.452 0.455 0.458 0.461 0.464 0.467 0.470 0.473 0.476 0.479 0.482 0.485 0.488 0.491 0.494 0.497 0.500 0.503 0.506 0.509 0.512 0.515 0.518 0.521 0.524 0.527 0.530 0.533 0.536 0.539 0.542 0.545 0.548 0.551 0.554 0.557 0.560 0.563 0.566 0.569 0.572 0.575 0.578 0.581 0.584 0.587 0.590 0.593 0.596 0.599 0.602 0.605 0.608 0.611 0.614 0.617 0.620"/><feFuncB type="table" tableValues="0.380 0.383 0.386 0.389 0.392 0.395 0.398 0.401 0.404 0.407 0.410 0.413 0.416 0.419 0.422 0.425 0.428 0.431 0.434 0.437 0.440 0.443 0.446 0.449 0.452 0.455 0.458 0.461 0.464 0.467 0.470 0.473 0.476 0.479 0.482 0.485 0.488 0.491 0.494 0.497 0.500 0.503 0.506 0.509 0.512 0.515 0.518 0.521 0.524 0.527 0.530 0.533 0.536 0.539 0.542 0.545 0.548 0.551 0.554 0.557 0.560 0.563 0.566 0.569 0.572 0.575 0.578 0.581 0.584 0.587 0.590 0.593 0.596 0.599 0.602 0.605 0.608 0.611 0.614 0.617 0.620"/><feFuncA type="linear" slope="0" intercept="1"/></feComponentTransfer>
  <feComposite in="lit" in2="mask" operator="arithmetic" k1="0.95" result="a1"/>
  <feComposite in="a1" in2="rg" operator="arithmetic" k2="1" k3="1" result="a15"/>
  <feComposite in="a15" in2="sp" operator="arithmetic" k2="1" k3="0.6" k4="-0.3" result="a2"/>
  <feComposite in="a2" in2="lo" operator="arithmetic" k2="1" k3="1" k4="-0.538" result="a3"/>
  <feTurbulence type="fractalNoise" baseFrequency="0.05" numOctaves="2" seed="77"/>
  <feColorMatrix type="matrix" values="1 0 0 0 0  1 0 0 0 0  1 0 0 0 0  0 0 0 0 1"/>
  <feComponentTransfer result="mid"><feFuncR type="table" tableValues="0.400 0.403 0.405 0.408 0.410 0.413 0.415 0.418 0.420 0.423 0.425 0.427 0.430 0.432 0.435 0.438 0.440 0.443 0.445 0.448 0.450 0.453 0.455 0.458 0.460 0.463 0.465 0.468 0.470 0.473 0.475 0.478 0.480 0.482 0.485 0.487 0.490 0.492 0.495 0.497 0.500 0.502 0.504 0.507 0.509 0.511 0.513 0.516 0.518 0.520 0.522 0.525 0.527 0.529 0.531 0.534 0.536 0.538 0.540 0.543 0.545 0.547 0.549 0.552 0.554 0.556 0.558 0.561 0.563 0.565 0.568 0.570 0.572 0.574 0.577 0.579 0.581 0.583 0.585 0.588 0.590"/><feFuncG type="table" tableValues="0.400 0.403 0.405 0.408 0.410 0.413 0.415 0.418 0.420 0.423 0.425 0.427 0.430 0.432 0.435 0.438 0.440 0.443 0.445 0.448 0.450 0.453 0.455 0.458 0.460 0.463 0.465 0.468 0.470 0.473 0.475 0.478 0.480 0.482 0.485 0.487 0.490 0.492 0.495 0.497 0.500 0.502 0.504 0.507 0.509 0.511 0.513 0.516 0.518 0.520 0.522 0.525 0.527 0.529 0.531 0.534 0.536 0.538 0.540 0.543 0.545 0.547 0.549 0.552 0.554 0.556 0.558 0.561 0.563 0.565 0.568 0.570 0.572 0.574 0.577 0.579 0.581 0.583 0.585 0.588 0.590"/><feFuncB type="table" tableValues="0.400 0.403 0.405 0.408 0.410 0.413 0.415 0.418 0.420 0.423 0.425 0.427 0.430 0.432 0.435 0.438 0.440 0.443 0.445 0.448 0.450 0.453 0.455 0.458 0.460 0.463 0.465 0.468 0.470 0.473 0.475 0.478 0.480 0.482 0.485 0.487 0.490 0.492 0.495 0.497 0.500 0.502 0.504 0.507 0.509 0.511 0.513 0.516 0.518 0.520 0.522 0.525 0.527 0.529 0.531 0.534 0.536 0.538 0.540 0.543 0.545 0.547 0.549 0.552 0.554 0.556 0.558 0.561 0.563 0.565 0.568 0.570 0.572 0.574 0.577 0.579 0.581 0.583 0.585 0.588 0.590"/><feFuncA type="linear" slope="0" intercept="1"/></feComponentTransfer>
  <feComposite in="a3" in2="mid" operator="arithmetic" k2="1" k3="1" k4="-0.5"/>
  <feGaussianBlur stdDeviation="0.4"/>
  <feComponentTransfer><feFuncA type="linear" slope="0" intercept="1"/></feComponentTransfer>
</filter>
<filter id="fcs" x="0" y="0" width="100%" height="100%" color-interpolation-filters="sRGB">
  <feTurbulence type="fractalNoise" baseFrequency="0.015 0.12" numOctaves="2" seed="5"/>
  <feColorMatrix type="matrix" values="0 0 0 0 1  0 0 0 0 1  0 0 0 0 1  3 0 0 0 -1.75"/>
  <feGaussianBlur stdDeviation="0.5"/>
</filter><filter id="cb1" x="-50%" y="-50%" width="200%" height="200%"><feGaussianBlur stdDeviation="1.2"/></filter><filter id="cb05" x="-50%" y="-50%" width="200%" height="200%"><feGaussianBlur stdDeviation="0.6"/></filter></defs>
<rect x="488" y="2" width="236" height="171" filter="url(#fc)"/>
<g transform="rotate(-35 606 88)" opacity="0.35"><rect x="446" y="-80" width="320" height="336" filter="url(#fcs)"/></g>
<ellipse cx="667" cy="16.3" rx="4" ry="2" transform="rotate(0 667 16.3)" fill="#111" opacity="0.55" filter="url(#cb1)"/>
<ellipse cx="640" cy="32" rx="8" ry="3.5" transform="rotate(-35 640 32)" fill="#111" opacity="0.55" filter="url(#cb1)"/>
<ellipse cx="721" cy="9" rx="4" ry="2.5" transform="rotate(0 721 9)" fill="#111" opacity="0.55" filter="url(#cb1)"/>
<ellipse cx="620.5" cy="79" rx="5" ry="4" transform="rotate(0 620.5 79)" fill="#111" opacity="0.55" filter="url(#cb1)"/>
<ellipse cx="610.5" cy="57.5" rx="4" ry="3" transform="rotate(0 610.5 57.5)" fill="#111" opacity="0.55" filter="url(#cb1)"/>
<ellipse cx="505" cy="33.5" rx="8" ry="4" transform="rotate(0 505 33.5)" fill="#111" opacity="0.55" filter="url(#cb1)"/>
<ellipse cx="504" cy="42" rx="2.5" ry="1.5" transform="rotate(0 504 42)" fill="#111" opacity="0.55" filter="url(#cb1)"/>
<ellipse cx="529.5" cy="58.5" rx="3.5" ry="2.5" transform="rotate(0 529.5 58.5)" fill="#111" opacity="0.55" filter="url(#cb1)"/>
<ellipse cx="552.5" cy="11" rx="3.5" ry="2.5" transform="rotate(0 552.5 11)" fill="#111" opacity="0.55" filter="url(#cb1)"/>
<ellipse cx="498" cy="104" rx="8" ry="5" transform="rotate(0 498 104)" fill="#111" opacity="0.55" filter="url(#cb1)"/>
<ellipse cx="553.5" cy="125.8" rx="3" ry="1.5" transform="rotate(0 553.5 125.8)" fill="#111" opacity="0.55" filter="url(#cb1)"/>
<ellipse cx="509.5" cy="162.7" rx="3.5" ry="3" transform="rotate(0 509.5 162.7)" fill="#111" opacity="0.55" filter="url(#cb1)"/>
<ellipse cx="718" cy="137" rx="7" ry="2.5" transform="rotate(0 718 137)" fill="#111" opacity="0.55" filter="url(#cb1)"/>
<ellipse cx="575" cy="128" rx="3" ry="2" transform="rotate(0 575 128)" fill="#111" opacity="0.55" filter="url(#cb1)"/>
<ellipse cx="600" cy="96" rx="3" ry="2" transform="rotate(0 600 96)" fill="#111" opacity="0.55" filter="url(#cb1)"/>
<ellipse cx="690" cy="120" rx="3" ry="2" transform="rotate(0 690 120)" fill="#111" opacity="0.55" filter="url(#cb1)"/>
<ellipse cx="650" cy="150" rx="3" ry="2" transform="rotate(0 650 150)" fill="#111" opacity="0.55" filter="url(#cb1)"/>
<ellipse cx="538" cy="20" rx="3" ry="2" transform="rotate(0 538 20)" fill="#111" opacity="0.55" filter="url(#cb1)"/>
<ellipse cx="590" cy="45" rx="2.5" ry="2" transform="rotate(0 590 45)" fill="#111" opacity="0.55" filter="url(#cb1)"/>
<ellipse cx="700" cy="60" rx="3" ry="2" transform="rotate(0 700 60)" fill="#111" opacity="0.55" filter="url(#cb1)"/>
<ellipse cx="663.5" cy="7.8" rx="1.2" ry="4.5" transform="rotate(35 663.5 7.8)" fill="#eee" opacity="0.45" filter="url(#cb05)"/>
<ellipse cx="685" cy="13.5" rx="1.5" ry="5" transform="rotate(50 685 13.5)" fill="#eee" opacity="0.45" filter="url(#cb05)"/>
<ellipse cx="673.5" cy="66.5" rx="4" ry="1.2" transform="rotate(-20 673.5 66.5)" fill="#eee" opacity="0.45" filter="url(#cb05)"/>
<ellipse cx="640" cy="68.5" rx="1" ry="3.5" transform="rotate(0 640 68.5)" fill="#eee" opacity="0.45" filter="url(#cb05)"/>
<ellipse cx="529.5" cy="75.5" rx="3.5" ry="3" transform="rotate(0 529.5 75.5)" fill="#eee" opacity="0.45" filter="url(#cb05)"/>
<ellipse cx="534" cy="162.8" rx="6" ry="1.5" transform="rotate(-30 534 162.8)" fill="#eee" opacity="0.45" filter="url(#cb05)"/>
<ellipse cx="675" cy="106" rx="12" ry="1.5" transform="rotate(-30 675 106)" fill="#eee" opacity="0.45" filter="url(#cb05)"/>
<ellipse cx="700" cy="95" rx="6" ry="1.2" transform="rotate(-35 700 95)" fill="#eee" opacity="0.45" filter="url(#cb05)"/>
<ellipse cx="600" cy="150" rx="5" ry="1.2" transform="rotate(-30 600 150)" fill="#eee" opacity="0.45" filter="url(#cb05)"/>
</svg>
<div class="bar" style="left:488px;top:172.5px;width:236px;height:11.5px;"></div>
<div class="brd" style="left:488px;top:2px;width:236px;height:182px;"></div>
<div class="org" style="left:566.1px;top:144px;width:157px;height:28.5px;"></div>
<div class="sbar" style="left:491px;top:176.5px;width:95px;"></div>
<div class="sbar" style="left:491px;top:175.0px;width:1px;height:4px;"></div><div class="sbar" style="left:585px;top:175.0px;width:1px;height:4px;"></div>
<div class="inf" style="left:528px;top:178.7px;width:20px;">30 µm</div>
<div class="inf" style="left:604px;top:173.8px;width:20px;"><b>Mag.</b><br>5000 x</div>
<div class="inf" style="left:637px;top:173.8px;width:20px;"><b>FW</b><br>104 µm</div>
<div class="inf" style="left:668.7px;top:173.8px;width:20px;"><b>HV</b><br>10 kV</div>
<div class="inf" style="left:696.8px;top:173.8px;width:20px;"><b>Int.</b><br>Map</div>
<svg class="abs" style="left:0;top:0" width="725" height="190" viewBox="0 0 725 190">
<text x="93.4" y="162.8" class="om">+0.18V</text><text x="141.8" y="166.8" class="os">pseudo K+/K</text><text x="200.20000000000002" y="164.4" class="os" style="font-size:7.5px;font-weight:bold">/</text><text x="207.8" y="162.8" class="om">1 h</text>
<text x="328.0" y="162.7" class="om">+1.08V</text><text x="376.3" y="166.8" class="os">pseudo K+/K</text><text x="434.0" y="164.29999999999998" class="os" style="font-size:7.5px;font-weight:bold">/</text><text x="442.2" y="162.7" class="om">50 h</text>
<text x="571.4" y="162.7" class="om">+1.80V</text><text x="619.7" y="166.8" class="os">pseudo K+/K</text><text x="677.4" y="164.29999999999998" class="os" style="font-size:7.5px;font-weight:bold">/</text><text x="685.6" y="162.7" class="om">50 h</text>
<rect x="1.9" y="1.9" width="18.5" height="16.9" fill="#fff"/><text x="2.4" y="15.0" style="font-size:14.5px" class="lb" transform="translate(2.4 15.0) scale(0.9 1) translate(-2.4 -15.0)">(a)</text>
<rect x="245.8" y="1.4" width="17.2" height="15.7" fill="#fff"/><text x="246.4" y="12.9" style="font-size:12.8px" class="lb" transform="translate(246.4 12.9) scale(1.0 1) translate(-246.4 -12.9)">(b)</text>
<rect x="487.5" y="3.8" width="16.5" height="14.2" fill="#fff"/><text x="488.6" y="15.2" style="font-size:12.2px" class="lb" transform="translate(488.6 15.2) scale(1.0 1) translate(-488.6 -15.2)">(c)</text>
</svg>
<svg class="abs" style="left:0;top:0" width="725" height="399" viewBox="0 0 725 399">
<path d="M3.8,194.5V367.3H224.0" fill="none" stroke="#8c8c8c" stroke-width="1.4"/>
<path d="M12.0,367.3v1.8M25.6,367.3v3.3M39.2,367.3v1.8M52.7,367.3v3.3M66.3,367.3v1.8M79.9,367.3v3.3M93.4,367.3v1.8M107.0,367.3v3.3M120.6,367.3v1.8M134.2,367.3v3.3M147.7,367.3v1.8M161.3,367.3v3.3M174.9,367.3v1.8M188.4,367.3v3.3M202.0,367.3v1.8M215.6,367.3v3.3M3.8,211.8h-3M3.8,229.1h-1.8M3.8,246.4h-3M3.8,263.7h-1.8M3.8,281.0h-3M3.8,298.3h-1.8M3.8,315.6h-3M3.8,332.9h-1.8M3.8,350.2h-3" stroke="#8c8c8c" stroke-width="1"/>
<text x="25.6" y="381.0" text-anchor="middle" class="tl">20</text>
<text x="52.7" y="381.0" text-anchor="middle" class="tl">30</text>
<text x="79.9" y="381.0" text-anchor="middle" class="tl">40</text>
<text x="107.0" y="381.0" text-anchor="middle" class="tl">50</text>
<text x="134.2" y="381.0" text-anchor="middle" class="tl">60</text>
<text x="161.3" y="381.0" text-anchor="middle" class="tl">70</text>
<text x="188.4" y="381.0" text-anchor="middle" class="tl">80</text>
<text x="215.6" y="381.0" text-anchor="middle" class="tl">90</text>
<text x="127.0" y="395.2" text-anchor="middle" class="tt">2theta / degree</text>
<polyline points="5.2,273.5 6.1,273.7 7.4,273.5 8.3,273.7 9.2,273.4 9.6,273.6 9.8,273.4 11.1,273.5 11.3,273.4 11.5,273.4 11.8,273.6 13.1,273.4 15.4,273.6 16.1,273.6 16.3,273.5 16.5,273.6 16.8,273.5 17.0,273.6 19.6,273.7 19.8,273.6 20.2,273.5 20.4,273.7 20.7,273.6 20.9,273.7 21.5,273.7 21.7,273.5 22.0,273.7 22.4,273.5 22.8,273.6 23.0,273.5 23.5,273.5 23.7,273.6 24.4,273.4 24.6,273.6 24.8,273.3 25.0,273.5 25.2,273.4 25.4,273.5 25.7,273.4 25.9,273.3 27.0,273.4 27.2,273.1 27.4,273.3 28.3,273.2 28.9,273.3 29.3,273.1 30.9,273.3 32.0,273.3 32.2,273.5 33.0,273.5 33.3,273.4 33.5,273.6 34.8,273.7 36.1,273.5 36.5,273.5 36.7,273.7 37.8,273.6 39.5,273.6 39.8,273.5 41.9,273.5 42.2,273.3 43.5,273.5 44.3,273.5 44.5,273.3 45.6,273.5 45.8,273.3 46.1,273.5 46.3,273.6 46.5,273.4 47.4,273.5 47.6,273.6 49.5,273.4 49.8,273.6 50.0,273.5 50.2,273.6 50.4,273.4 50.6,273.2 50.8,272.4 51.1,270.7 51.3,269.0 51.5,269.0 51.7,270.9 51.9,272.5 52.1,273.1 52.4,273.4 52.8,273.5 53.0,273.7 53.4,273.5 56.1,273.5 58.0,273.4 58.2,273.5 58.4,273.4 58.7,273.3 58.9,273.4 59.5,273.4 59.7,273.1 60.8,272.9 61.0,272.6 61.3,272.4 61.5,272.1 61.7,271.4 61.9,269.7 62.1,263.3 62.3,246.8 62.6,220.5 62.8,205.1 63.0,220.6 63.2,246.8 63.4,263.4 63.7,269.5 63.9,271.4 64.1,272.0 64.3,272.4 64.5,272.5 64.7,272.8 65.0,272.9 65.2,273.1 65.4,273.1 65.6,273.3 66.0,273.1 66.3,273.3 68.0,273.2 68.2,273.4 70.8,273.3 71.7,273.2 71.9,273.4 72.1,273.2 73.0,273.2 73.2,273.4 73.4,273.2 73.9,273.4 74.7,273.2 74.9,273.4 75.8,273.2 76.0,273.0 76.2,272.4 76.5,270.5 76.7,267.8 76.9,266.1 77.1,267.7 77.3,270.5 77.5,272.4 77.8,273.1 78.0,273.4 78.4,273.5 79.1,273.7 81.0,273.5 81.2,273.7 82.5,273.5 84.9,273.3 85.1,273.5 85.4,273.3 86.7,273.3 86.9,273.5 87.8,273.3 88.6,273.5 89.3,273.5 89.5,273.3 89.7,273.5 89.9,273.4 90.8,273.6 91.7,273.5 91.9,273.3 92.3,273.3 92.5,273.0 92.7,272.1 93.0,269.9 93.2,265.7 93.4,261.9 93.6,263.4 93.8,267.9 94.0,271.4 94.3,272.9 94.5,273.2 94.7,273.5 95.8,273.6 98.2,273.5 98.4,273.7 99.5,273.6 99.7,273.4 100.6,273.5 100.8,273.3 101.2,273.3 101.4,272.8 101.6,271.4 101.9,268.7 102.1,266.5 102.3,267.4 102.5,270.2 102.7,272.1 102.9,273.0 103.2,273.1 103.4,273.3 104.5,273.2 104.7,273.4 107.3,273.3 107.5,273.4 107.7,273.4 107.9,273.3 108.4,273.3 108.6,273.5 109.0,273.3 110.1,273.3 110.3,273.5 112.9,273.5 113.6,273.6 113.8,273.4 114.0,273.6 114.2,273.4 114.7,273.4 114.9,273.6 115.3,273.4 115.5,273.6 116.6,273.4 116.8,273.5 117.1,273.3 117.5,273.6 117.7,273.3 117.9,273.5 119.2,273.5 119.5,273.4 120.3,273.4 120.5,273.6 122.9,273.4 123.8,273.4 124.0,273.1 124.2,272.4 124.4,272.3 124.7,272.8 124.9,273.2 125.1,273.4 127.3,273.3 127.5,273.5 130.1,273.4 130.5,273.6 130.7,273.4 131.6,273.6 132.7,273.6 132.9,273.5 133.8,273.5 134.0,273.3 134.2,272.5 134.4,271.3 134.6,270.3 134.9,270.6 135.1,272.0 135.3,273.1 135.5,273.5 136.0,273.6 136.8,273.7 137.0,273.6 137.3,273.7 138.3,273.5 138.6,273.7 139.2,273.5 141.8,273.6 142.2,273.4 143.8,273.5 144.0,273.4 144.4,273.5 144.6,273.3 144.9,273.5 146.6,273.3 146.8,273.5 147.7,273.3 148.1,273.4 148.3,273.2 148.5,272.9 148.8,272.5 149.0,272.0 149.2,271.9 149.4,272.4 149.6,273.1 149.8,273.3 150.3,273.3 150.5,273.5 153.1,273.5 155.1,273.4 155.3,273.6 155.5,273.4 155.9,273.6 156.1,273.4 158.7,273.5 160.3,273.3 160.5,273.5 161.1,273.3 161.8,273.4 162.0,273.2 162.2,273.0 162.4,272.2 162.7,271.1 162.9,270.0 163.1,270.3 163.3,271.7 163.5,272.9 163.7,273.1 164.0,273.4 165.3,273.4 165.5,273.6 165.9,273.4 166.1,273.6 166.3,273.5 167.0,273.4 167.2,273.6 168.3,273.5 168.7,273.6 169.2,273.4 169.8,273.6 170.0,273.4 170.3,273.6 170.7,273.4 171.3,273.4 171.6,273.6 173.5,273.5 173.7,273.6 174.6,273.5 174.8,273.7 175.7,273.5 176.3,273.7 178.3,273.8 178.5,273.7 181.1,273.6 181.5,273.7 182.0,273.5 184.6,273.4 185.9,273.2 186.5,273.2 186.8,273.4 187.6,273.2 188.9,273.1 189.1,272.6 189.4,272.1 189.6,272.0 189.8,272.3 190.0,272.9 190.2,273.3 191.1,273.4 193.3,273.6 193.7,273.6 193.9,273.4 194.8,273.6 195.0,273.5 195.4,273.7 196.1,273.5 196.5,273.6 197.4,273.5 197.6,273.6 198.3,273.4 200.9,273.4 201.7,273.4 202.0,273.3 202.2,273.2 202.4,273.4 202.8,273.3 203.7,273.4 203.9,273.2 204.6,273.4 206.7,273.3 206.9,273.5 207.4,273.4 207.6,273.6 207.8,273.6 208.0,273.4 208.3,273.6 208.9,273.5 209.1,273.7 209.3,273.5 209.6,273.6 210.2,273.7 210.4,273.5 210.6,273.7 211.1,273.6 211.5,273.6 211.7,273.8 212.4,273.8 212.6,273.6 213.5,273.8 213.7,273.5 213.9,273.7 214.5,273.6 215.0,273.4 215.2,273.0 215.4,272.3 215.6,272.0 215.9,272.6 216.1,273.2 216.3,273.3 217.2,273.4 217.4,273.6 217.6,273.4 217.8,273.6 218.2,273.6 218.5,273.4 220.4,273.6 220.8,273.7" fill="none" stroke="#1cc2c4" stroke-width="1.6" stroke-linejoin="round"/>
<polyline points="5.2,349.8 5.5,349.5 5.7,349.4 5.9,349.6 6.3,349.5 6.5,349.8 6.8,349.5 7.0,349.6 7.2,349.7 7.4,349.9 7.6,349.5 7.9,349.7 8.3,349.5 8.7,349.5 8.9,349.8 9.2,349.6 9.4,349.8 9.6,349.5 9.8,349.6 10.0,350.0 10.5,349.9 10.7,349.6 10.9,349.8 11.1,349.8 11.3,349.9 12.4,349.8 12.6,349.6 13.5,349.5 13.7,349.7 13.9,349.9 14.1,349.6 14.6,349.5 14.8,349.7 15.0,349.6 15.2,349.8 15.4,349.5 15.9,349.8 16.1,349.9 16.3,349.5 16.5,349.4 16.8,349.9 17.0,349.5 17.2,349.7 17.6,349.8 17.8,349.6 18.1,349.5 18.3,350.0 18.5,349.7 18.7,350.0 18.9,349.7 19.1,349.9 19.4,349.6 19.6,349.6 19.8,349.9 20.0,349.6 20.2,350.0 20.4,350.1 20.7,349.9 20.9,350.2 21.3,350.1 21.5,350.0 21.7,350.2 22.0,350.3 22.2,349.9 22.4,350.2 22.6,349.9 22.8,349.9 23.0,350.2 24.4,350.0 24.6,349.8 24.8,350.0 25.0,350.1 25.2,349.9 25.4,350.1 25.7,350.1 25.9,349.7 26.1,349.9 26.3,349.9 26.5,350.1 26.7,349.9 27.0,349.8 27.2,350.0 27.4,349.7 27.6,349.7 27.8,350.0 28.0,349.7 28.7,349.7 28.9,349.5 29.1,349.5 29.3,349.9 29.6,349.8 29.8,349.5 30.0,349.4 30.2,349.8 30.6,349.6 31.3,349.8 31.7,349.7 32.0,349.8 32.2,349.8 32.4,349.6 32.6,350.0 32.8,349.8 33.0,349.7 33.3,349.9 33.5,350.0 33.7,349.7 33.9,350.0 34.6,349.8 34.8,350.1 35.2,350.0 35.4,349.8 35.6,350.0 35.9,349.8 36.1,350.1 36.3,350.0 36.5,349.9 36.7,349.8 36.9,350.0 37.4,350.1 37.6,349.9 37.8,350.0 38.0,349.7 38.2,349.7 38.5,350.0 38.7,349.9 38.9,349.6 39.3,349.5 39.5,349.7 40.0,349.7 40.2,349.4 40.4,349.7 41.3,349.5 41.5,349.3 41.7,349.6 41.9,349.7 42.2,349.2 42.6,349.2 42.8,349.5 43.0,349.2 43.2,349.2 43.5,349.6 43.7,349.4 44.3,349.5 45.0,349.7 45.2,349.8 45.4,349.6 45.6,349.8 45.8,349.5 46.1,349.9 46.3,349.5 47.4,349.7 47.6,349.8 47.8,349.1 48.2,348.9 48.5,349.1 48.7,349.6 48.9,349.8 49.1,349.6 49.3,349.8 49.8,350.0 50.0,349.6 50.2,349.8 50.4,349.5 50.6,349.4 50.8,348.4 51.1,346.0 51.3,343.5 51.5,343.8 51.7,345.9 51.9,348.0 52.1,349.1 52.4,349.4 52.6,349.9 52.8,349.6 53.0,349.5 53.2,349.9 53.9,349.7 54.3,349.7 54.5,349.5 54.7,349.9 55.6,349.9 55.8,349.4 56.1,349.5 56.3,349.9 56.5,349.7 58.0,349.9 58.4,349.9 58.7,349.7 58.9,349.7 59.1,349.8 60.0,349.6 60.2,349.5 60.4,349.7 60.6,349.4 61.0,349.3 61.3,349.2 61.5,348.8 61.7,348.2 61.9,346.9 62.1,341.7 62.3,328.5 62.6,307.5 62.8,294.7 63.0,307.2 63.2,328.7 63.4,341.8 63.7,346.8 63.9,348.0 64.1,348.5 64.3,349.1 64.5,349.0 64.7,349.2 65.0,349.5 65.2,349.5 65.4,349.7 65.6,349.4 66.7,349.4 66.9,349.2 67.1,348.9 67.3,348.2 67.6,348.7 67.8,349.2 68.0,349.3 68.2,349.9 68.6,350.0 68.9,349.6 69.1,350.0 69.3,350.1 69.5,349.7 69.7,350.1 69.9,349.8 70.6,349.8 70.8,350.0 71.0,349.9 71.2,350.3 71.5,349.9 71.9,349.9 72.1,350.2 72.3,349.9 72.6,349.8 72.8,350.3 73.2,350.0 73.4,349.8 73.6,350.1 74.1,350.1 74.3,349.8 74.9,349.8 75.2,349.6 75.4,349.1 75.6,347.8 75.8,345.6 76.0,343.0 76.2,341.7 76.5,339.7 76.7,334.0 76.9,330.7 77.1,334.9 77.3,342.3 77.5,346.9 77.8,348.7 78.0,349.2 78.4,349.3 78.6,349.8 78.8,349.9 79.1,349.6 79.3,349.5 79.5,349.8 79.9,349.7 80.2,350.0 80.6,350.1 80.8,349.9 81.0,350.1 81.2,350.1 81.5,349.9 81.7,349.8 81.9,350.2 82.1,350.0 82.3,350.2 82.5,350.0 82.8,350.1 83.0,350.3 83.4,350.4 83.6,350.2 84.1,350.4 84.5,350.3 84.7,350.1 84.9,350.4 85.1,350.0 85.4,350.2 85.8,350.2 86.0,350.0 87.1,349.9 87.3,350.1 87.5,349.9 87.8,349.7 88.0,349.9 88.4,350.0 88.6,349.7 88.8,349.7 89.1,349.5 89.3,349.5 89.5,349.8 90.1,349.6 90.4,349.3 90.6,349.1 90.8,348.7 91.0,348.1 91.2,345.7 91.4,343.8 91.7,343.6 91.9,345.5 92.1,347.6 92.3,348.2 92.5,347.4 92.7,345.2 93.0,337.6 93.2,323.5 93.4,311.5 93.6,316.5 93.8,331.3 94.0,342.3 94.3,347.0 94.5,348.6 94.7,348.9 94.9,348.9 95.1,349.3 95.3,349.4 95.6,349.7 96.0,349.5 96.2,349.8 96.4,349.4 96.7,349.4 96.9,349.8 97.1,349.4 97.3,349.6 97.5,349.4 97.7,349.2 98.0,348.8 98.2,346.7 98.4,342.3 98.6,336.8 98.8,336.2 99.0,340.7 99.3,345.5 99.5,348.1 99.7,348.9 99.9,349.2 100.1,349.0 100.3,349.0 100.6,348.6 100.8,348.4 101.0,347.9 101.2,346.7 101.4,341.8 101.6,328.3 101.9,303.6 102.1,281.9 102.3,290.3 102.5,317.1 102.7,336.3 102.9,345.0 103.2,347.4 103.4,348.0 103.6,348.3 103.8,348.3 104.0,347.9 104.3,347.7 104.5,348.0 104.7,348.8 104.9,349.3 105.3,349.3 105.6,349.5 105.8,349.4 106.0,349.7 106.4,349.8 106.6,349.6 106.9,350.0 107.1,349.8 107.3,350.0 107.5,349.7 107.7,350.0 108.6,349.9 108.8,350.1 109.0,349.9 109.2,350.3 109.9,350.4 110.1,350.0 110.3,350.1 110.5,350.3 111.0,350.2 111.2,350.1 111.9,350.1 112.1,350.3 112.5,350.3 112.7,350.1 112.9,350.1 113.2,350.3 113.4,350.2 113.6,349.9 113.8,350.3 114.0,349.9 114.5,349.8 114.7,350.1 115.3,349.9 115.5,349.7 115.8,349.9 116.0,350.1 116.2,349.8 116.4,350.0 116.8,349.9 117.1,350.2 117.3,349.8 118.1,350.0 118.4,350.2 118.6,350.0 118.8,350.3 119.0,350.0 119.7,350.0 119.9,349.8 120.1,349.9 120.3,350.3 120.5,349.9 120.8,350.0 121.0,350.3 121.2,350.2 121.6,350.3 121.8,350.0 122.1,349.8 122.3,350.1 122.5,349.7 122.7,349.7 122.9,349.5 123.1,347.2 123.4,342.8 123.6,339.2 123.8,342.7 124.0,347.2 124.2,349.3 124.4,349.5 124.9,349.6 125.1,349.8 125.3,349.6 125.5,349.5 125.7,348.7 126.0,345.5 126.2,340.5 126.4,340.4 126.6,345.4 126.8,348.5 127.0,349.4 127.3,349.7 127.7,349.8 127.9,350.0 128.4,349.8 128.6,350.0 128.8,350.1 129.0,349.8 129.2,349.9 129.4,350.1 130.1,350.0 130.3,350.2 130.7,350.3 131.0,350.0 131.2,350.4 133.1,350.3 133.3,350.0 133.6,349.9 133.8,348.9 134.0,345.9 134.2,341.4 134.4,338.6 134.6,341.6 134.9,345.9 135.1,348.7 135.3,349.9 135.5,349.7 135.7,350.2 136.0,350.3 136.2,350.1 136.4,350.3 136.6,350.1 137.0,350.3 137.3,350.3 137.5,350.0 137.7,350.2 137.9,349.9 138.1,350.1 138.3,349.8 138.6,350.1 139.0,350.1 139.2,349.8 139.6,349.7 139.9,349.4 140.1,348.7 140.3,348.7 140.5,349.3 140.7,350.0 141.2,350.1 141.8,350.2 142.0,349.9 142.2,349.8 142.5,350.2 142.7,349.8 142.9,350.1 143.3,349.9 143.6,349.9 143.8,350.3 144.0,350.2 144.2,349.9 144.4,349.5 144.6,349.2 144.9,348.2 145.1,347.6 145.3,348.7 145.5,349.5 145.7,350.0 146.2,350.0 146.4,350.3 146.6,350.1 147.2,350.1 147.5,349.9 147.7,350.1 148.1,350.0 148.3,349.6 148.5,349.3 148.8,347.9 149.0,344.4 149.2,339.3 149.4,337.9 149.6,341.6 149.8,346.2 150.1,348.5 150.3,349.5 150.5,349.3 150.7,349.5 150.9,348.8 151.1,348.1 151.4,348.2 151.6,349.0 151.8,349.4 152.0,349.4 152.2,349.5 152.7,349.5 152.9,349.7 153.1,349.5 153.3,349.6 153.5,349.8 153.8,349.8 154.0,349.9 154.2,349.8 154.4,349.5 154.6,350.0 154.8,349.7 155.1,350.0 155.3,350.0 155.5,349.8 155.7,350.0 156.1,350.1 156.4,349.9 156.6,350.0 156.8,350.3 157.0,350.2 157.2,349.8 157.4,350.2 157.9,350.2 158.1,350.0 158.7,350.2 159.0,350.4 159.4,350.5 159.6,350.1 159.8,350.4 160.1,350.5 160.3,350.0 160.5,350.4 160.7,350.0 160.9,350.4 161.1,350.2 161.4,350.3 161.6,349.9 161.8,349.9 162.0,349.7 162.2,349.0 162.4,347.1 162.7,344.0 162.9,341.0 163.1,342.2 163.3,345.9 163.5,348.2 163.7,349.4 164.0,349.6 164.2,350.0 164.8,349.9 165.0,350.2 165.5,350.0 165.7,350.2 165.9,350.0 166.1,349.9 166.3,350.1 166.8,350.0 167.0,350.2 167.2,350.1 167.4,349.7 167.7,349.6 167.9,349.0 168.1,348.9 168.3,349.2 168.5,349.8 168.7,349.8 169.0,350.0 169.4,350.0 169.6,350.2 169.8,350.1 170.0,350.3 170.3,350.4 170.5,350.1 170.9,350.1 171.1,350.4 171.3,350.2 171.6,350.4 171.8,350.1 172.0,350.2 172.2,350.5 172.4,350.2 172.6,350.5 172.9,350.6 173.1,350.2 173.3,350.4 173.7,350.2 173.9,350.5 174.2,350.2 174.4,350.4 174.8,350.3 175.0,350.1 175.2,350.1 175.5,350.3 175.7,350.2 175.9,349.8 176.1,349.5 176.3,349.6 176.6,349.9 176.8,349.8 177.0,350.0 177.6,349.9 177.9,350.2 179.2,350.3 179.4,350.0 179.6,350.3 179.8,350.2 180.0,350.0 180.2,350.1 180.5,350.4 180.7,350.4 180.9,350.1 181.1,350.5 181.3,350.5 181.5,350.3 181.8,350.3 182.0,350.5 182.4,350.5 182.6,350.2 182.8,350.3 183.1,349.9 183.3,349.6 183.5,348.7 183.7,348.2 183.9,348.2 184.2,349.1 184.4,349.7 184.6,350.1 184.8,350.4 185.0,350.0 185.2,349.8 185.5,349.0 185.7,348.4 185.9,348.4 186.1,349.3 186.3,349.9 186.5,350.3 187.0,350.0 187.4,349.9 187.6,349.9 187.8,350.1 188.1,350.1 188.3,349.7 188.5,349.6 188.7,349.3 188.9,347.7 189.1,344.4 189.4,339.9 189.6,338.4 189.8,342.1 190.0,345.8 190.2,347.2 190.4,346.9 190.7,347.0 190.9,347.9 191.1,349.0 191.3,349.7 191.5,350.0 191.8,350.2 192.0,350.2 192.2,350.4 192.4,350.5 192.6,350.3 192.8,350.1 193.1,350.4 193.7,350.5 193.9,350.3 194.1,350.5 194.4,350.3 194.6,350.7 195.0,350.5 195.2,350.5 195.4,350.3 195.7,350.2 195.9,350.0 196.1,349.5 196.3,348.7 196.5,347.5 196.7,347.9 197.0,349.1 197.2,350.0 197.6,350.1 197.8,350.5 198.0,350.2 198.5,350.3 198.7,350.0 199.1,350.1 199.4,350.3 199.6,349.9 199.8,350.3 200.0,350.1 200.2,349.9 200.4,350.1 200.7,350.1 200.9,349.8 201.1,349.8 201.3,350.1 202.2,350.1 202.4,349.7 202.6,350.2 203.3,350.2 203.5,350.0 204.3,349.9 204.6,350.3 204.8,350.2 205.0,349.9 205.2,350.4 205.6,350.2 206.1,350.2 206.3,350.5 206.5,350.4 206.7,350.1 206.9,350.5 207.2,350.1 207.4,350.5 207.6,350.1 207.8,350.2 208.0,350.3 208.3,350.5 208.5,350.6 208.7,350.2 208.9,350.5 209.1,350.5 209.3,350.2 209.6,350.1 209.8,350.5 210.0,350.0 210.2,350.2 210.6,350.4 210.9,350.3 211.1,349.9 211.3,350.3 212.2,350.1 212.4,349.8 212.6,350.2 212.8,350.2 213.0,349.8 213.5,349.7 213.7,350.1 213.9,350.0 214.1,349.7 214.3,349.9 214.5,349.7 214.8,349.7 215.0,349.1 215.2,347.2 215.4,344.7 215.6,344.0 215.9,346.0 216.1,348.2 216.3,349.4 216.5,349.9 216.9,349.9 217.2,350.3 217.4,350.1 217.8,350.1 218.0,350.4 218.2,350.1 218.5,350.2 218.7,350.5 219.3,350.7 219.5,350.2 219.8,350.5 220.0,350.3 220.2,350.7 220.4,350.8 220.6,350.4 221.1,350.3 221.3,350.5 221.7,350.5 221.9,350.8 222.1,350.6 222.6,350.8 222.8,350.5 223.7,350.6" fill="none" stroke="#0a0a0a" stroke-width="1.55" stroke-linejoin="round"/>
<text x="49.9" y="267.0" class="pl" text-anchor="middle">1</text>
<text x="53.5" y="272.0" class="pl" text-anchor="middle">4</text>
<text x="59.5" y="272.0" class="pl" text-anchor="middle">4</text>
<text x="59.3" y="231.5" class="pl" text-anchor="middle">1</text>
<text x="74.0" y="271.0" class="pl" text-anchor="middle">4</text>
<text x="77.9" y="256.6" class="pl" text-anchor="middle">3</text>
<text x="82.0" y="261.6" class="pl" text-anchor="middle">2</text>
<text x="93.5" y="257.6" class="pl" text-anchor="middle">3</text>
<text x="100.4" y="260.4" class="pl" text-anchor="middle">3</text>
<text x="104.5" y="255.0" class="pl" text-anchor="middle">1</text>
<text x="111.0" y="271.6" class="pl" text-anchor="middle">4</text>
<text x="124.8" y="268.5" class="pl" text-anchor="middle">1</text>
<text x="127.6" y="262.7" class="pl" text-anchor="middle">2</text>
<text x="135.7" y="268.5" class="pl" text-anchor="middle">1</text>
<text x="149.7" y="266.6" class="pl" text-anchor="middle">3</text>
<text x="164.3" y="259.3" class="pl" text-anchor="middle">2</text>
<text x="164.3" y="269.2" class="pl" text-anchor="middle">1</text>
<text x="180.7" y="271.5" class="pl" text-anchor="middle">4</text>
<text x="185.2" y="269.2" class="pl" text-anchor="middle">3</text>
<text x="191.0" y="264.0" class="pl" text-anchor="middle">1</text>
<text x="197.0" y="268.0" class="pl" text-anchor="middle">3</text>
<text x="200.3" y="273.5" class="pl" text-anchor="middle">4</text>
<text x="216.5" y="268.5" class="pl" text-anchor="middle">1</text>
<text x="51.0" y="341.5" class="pl" text-anchor="middle">1</text>
<text x="59.0" y="303.5" class="pl" text-anchor="middle">1</text>
<text x="77.4" y="328.3" class="pl" text-anchor="middle">3</text>
<text x="82.0" y="333.7" class="pl" text-anchor="middle">2</text>
<text x="92.5" y="307.4" class="pl" text-anchor="middle">3</text>
<text x="100.0" y="332.0" class="pl" text-anchor="middle">3</text>
<text x="104.0" y="285.0" class="pl" text-anchor="middle">1</text>
<text x="124.8" y="334.0" class="pl" text-anchor="middle">1</text>
<text x="127.6" y="328.3" class="pl" text-anchor="middle">2</text>
<text x="136.2" y="335.0" class="pl" text-anchor="middle">1</text>
<text x="149.7" y="331.5" class="pl" text-anchor="middle">3</text>
<text x="164.3" y="324.7" class="pl" text-anchor="middle">2</text>
<text x="164.3" y="334.5" class="pl" text-anchor="middle">1</text>
<text x="185.0" y="340.5" class="pl" text-anchor="middle">3</text>
<text x="190.4" y="336.0" class="pl" text-anchor="middle">1</text>
<text x="197.4" y="340.5" class="pl" text-anchor="middle">3</text>
<text x="216.5" y="337.4" class="pl" text-anchor="middle">1</text>
<text x="9.3" y="207.3" class="pn" style="font-size:13.6px">(d)</text>
<text x="166.8" y="304.6" class="pf" style="font-size:7.9px">Pure FLiNaK</text>
<g class="lg"><text x="194.4" y="215.5">1 KF</text><text x="194.4" y="225.4">2 NaF</text><text x="194.4" y="235.4">3 LiF</text><text x="194.4" y="245.3">4 CrF<tspan class="sb" dy="1.6">2</tspan></text></g>
<path d="M245.4,194.5V368.0H465.5" fill="none" stroke="#555" stroke-width="1.4"/>
<path d="M245.4,368.0v3.3M258.4,368.0v1.8M271.3,368.0v3.3M284.2,368.0v1.8M297.2,368.0v3.3M310.1,368.0v1.8M323.1,368.0v3.3M336.1,368.0v1.8M349.0,368.0v3.3M361.9,368.0v1.8M374.9,368.0v3.3M387.9,368.0v1.8M400.8,368.0v3.3M413.8,368.0v1.8M426.7,368.0v3.3M439.6,368.0v1.8M452.6,368.0v3.3M465.5,368.0v1.8M245.4,211.8h-3M245.4,229.2h-1.8M245.4,246.6h-3M245.4,263.9h-1.8M245.4,281.2h-3M245.4,298.6h-1.8M245.4,316.0h-3M245.4,333.3h-1.8M245.4,350.6h-3" stroke="#555" stroke-width="1"/>
<text x="245.4" y="381.0" text-anchor="middle" class="tl">10</text>
<text x="271.3" y="381.0" text-anchor="middle" class="tl">20</text>
<text x="297.2" y="381.0" text-anchor="middle" class="tl">30</text>
<text x="323.1" y="381.0" text-anchor="middle" class="tl">40</text>
<text x="349.0" y="381.0" text-anchor="middle" class="tl">50</text>
<text x="374.9" y="381.0" text-anchor="middle" class="tl">60</text>
<text x="400.8" y="381.0" text-anchor="middle" class="tl">70</text>
<text x="426.7" y="381.0" text-anchor="middle" class="tl">80</text>
<text x="452.6" y="381.0" text-anchor="middle" class="tl">90</text>
<text x="351.0" y="395.2" text-anchor="middle" class="tt">2theta / degree</text>
<polyline points="245.4,272.5 246.2,272.7 247.1,272.6 247.3,272.5 247.5,272.7 248.7,272.8 248.9,272.6 249.5,272.8 251.8,272.7 252.0,272.9 253.3,272.8 253.5,272.6 253.7,272.8 254.9,272.6 255.6,272.5 255.8,272.7 256.4,272.6 257.6,272.7 257.8,272.6 258.7,272.6 258.9,272.8 259.3,272.6 259.7,272.8 261.1,272.9 261.6,272.7 261.8,272.9 263.2,273.0 263.4,272.8 263.8,273.0 265.5,272.9 265.7,272.7 265.9,272.9 266.3,272.7 267.6,272.9 268.0,272.9 268.2,272.7 268.8,272.9 269.8,272.8 270.1,272.9 270.3,273.0 270.5,272.8 271.5,272.7 271.7,272.3 271.9,271.3 272.1,269.8 272.3,268.9 272.5,269.8 272.8,271.3 273.0,272.3 273.2,272.7 273.4,272.9 275.0,273.0 275.2,272.8 275.4,272.8 275.7,273.0 275.9,272.7 276.1,272.4 276.3,272.1 276.7,272.0 276.9,272.6 277.1,272.6 277.3,272.8 277.5,273.0 278.3,272.8 278.6,272.7 278.8,272.9 279.0,273.0 279.2,272.8 279.4,273.0 279.6,272.8 279.8,273.0 280.0,272.8 280.8,272.8 281.0,273.0 283.7,273.1 284.6,273.1 284.8,272.9 285.0,272.9 285.2,273.1 285.8,272.9 286.6,272.8 286.8,273.0 287.0,272.9 287.3,272.8 287.5,272.6 287.7,272.4 287.9,271.7 288.1,269.9 288.3,268.1 288.5,268.3 288.7,269.9 288.9,271.7 289.1,272.4 289.3,272.5 289.5,272.7 289.7,272.6 289.9,272.8 290.2,272.6 290.4,272.8 290.6,272.8 290.8,272.5 291.0,272.1 291.2,271.1 291.4,269.9 291.6,269.9 291.8,271.0 292.0,271.5 292.2,270.9 292.4,270.0 292.6,270.0 292.8,271.2 293.1,272.3 293.3,272.7 293.5,272.7 293.7,272.9 294.3,272.7 294.5,272.4 294.7,271.7 294.9,270.5 295.1,269.6 295.3,270.5 295.5,271.6 295.7,272.4 296.0,272.5 296.2,272.3 296.4,271.4 296.6,269.2 296.8,266.1 297.0,264.9 297.2,267.2 297.4,269.3 297.6,270.3 297.8,270.9 298.0,271.7 298.2,272.3 298.4,272.8 298.7,272.7 298.9,272.9 299.9,273.0 300.1,272.8 300.3,273.0 301.3,273.0 301.6,272.8 302.4,272.8 302.6,273.0 303.4,272.8 303.8,272.8 304.0,273.0 304.2,272.8 304.9,272.6 305.1,272.4 305.3,272.3 305.5,271.8 305.7,271.4 305.9,270.0 306.1,265.3 306.3,251.9 306.5,227.2 306.7,206.0 306.9,214.2 307.1,240.5 307.4,260.0 307.6,268.3 307.8,270.8 308.0,271.6 308.2,271.9 308.4,272.2 308.6,272.2 308.8,271.9 309.0,270.6 309.2,268.9 309.4,268.3 309.6,269.7 309.8,271.4 310.0,271.9 310.3,271.5 310.5,270.6 310.7,270.0 310.9,270.5 311.1,271.7 311.3,272.4 311.5,272.8 311.7,272.9 312.3,273.1 312.5,272.9 312.9,273.0 313.2,273.1 313.8,273.0 314.0,273.2 314.8,273.1 315.0,273.2 316.5,273.3 316.7,273.1 316.9,273.2 317.1,273.1 319.0,272.9 319.2,272.8 319.4,272.6 319.6,272.0 319.8,269.7 320.0,265.9 320.2,262.7 320.4,263.9 320.6,267.9 320.8,271.1 321.0,272.3 321.2,272.6 321.4,272.7 321.6,272.9 322.3,273.0 322.5,272.9 322.7,273.1 322.9,272.9 323.1,273.1 323.3,273.1 323.5,272.9 323.7,272.9 323.9,273.1 326.6,273.1 326.8,273.2 327.0,273.0 327.2,272.8 327.5,272.4 327.7,271.8 327.9,271.7 328.1,272.3 328.3,273.0 328.7,273.2 329.3,273.0 329.5,272.3 329.7,271.1 329.9,269.4 330.1,268.7 330.4,270.1 330.6,271.7 330.8,272.6 331.0,273.0 331.6,273.2 331.8,273.1 332.0,273.2 333.7,273.3 333.9,273.1 334.5,273.3 334.7,273.1 335.3,273.2 335.5,272.9 335.7,272.7 335.9,271.6 336.2,269.0 336.4,264.3 336.6,261.8 336.8,264.4 337.0,269.0 337.2,271.8 337.4,272.7 337.6,273.1 337.8,273.2 338.0,273.4 338.4,273.4 338.6,273.5 339.1,273.3 339.7,273.5 340.1,273.3 340.3,273.2 340.5,272.8 340.7,272.2 340.9,271.6 341.1,271.6 341.3,272.3 341.5,273.1 342.0,273.3 343.6,273.1 343.8,273.0 344.0,272.5 344.2,271.7 344.4,268.7 344.6,264.4 344.9,261.5 345.1,264.3 345.3,268.8 345.5,271.6 345.7,272.5 345.9,272.9 346.1,273.0 346.3,273.1 347.1,273.1 347.3,273.4 347.8,273.2 348.0,273.4 348.2,273.2 348.4,273.4 349.0,273.2 349.2,273.4 349.4,273.3 349.6,273.4 349.8,273.3 350.0,273.4 350.2,273.3 350.9,273.4 351.1,273.2 351.3,273.0 351.5,272.6 351.7,272.7 351.9,273.0 352.1,273.0 352.3,273.3 352.5,273.3 352.7,273.1 353.4,273.1 353.6,273.3 353.8,273.1 354.4,273.1 354.6,273.3 356.5,273.2 356.7,273.4 358.7,273.3 358.9,273.5 359.4,273.4 359.6,273.6 362.3,273.6 363.1,273.7 363.3,273.5 364.7,273.2 365.0,272.7 365.2,272.2 365.4,272.1 365.6,272.5 365.8,273.0 366.0,273.3 366.4,273.2 366.6,272.5 366.8,272.0 367.0,272.3 367.2,273.0 367.4,273.4 367.6,273.5 368.5,273.7 369.5,273.6 369.7,273.7 370.8,273.6 371.0,273.8 371.4,273.8 371.6,273.6 372.0,273.6 372.2,273.8 372.8,273.8 373.0,273.6 373.2,273.5 373.4,273.7 373.7,273.5 374.5,273.4 374.7,273.0 374.9,272.2 375.1,271.5 375.3,271.8 375.5,272.5 375.7,273.1 376.4,273.3 377.0,273.5 377.4,273.3 377.6,273.3 377.8,273.5 378.6,273.3 378.8,273.5 379.5,273.4 379.7,273.5 379.9,273.4 380.3,273.4 380.5,273.6 383.2,273.6 383.6,273.6 383.8,273.5 385.3,273.6 385.5,273.4 385.7,273.6 385.9,273.4 388.6,273.4 388.8,273.2 389.0,272.8 389.2,272.1 389.4,271.5 389.6,272.0 389.8,272.8 390.0,273.2 390.2,273.5 390.9,273.7 393.1,273.9 393.3,273.8 393.5,273.9 393.8,273.9 394.0,273.7 394.2,274.0 394.4,274.0 394.6,273.8 394.8,274.0 395.0,273.8 395.6,273.9 395.8,273.7 396.2,273.9 397.1,273.9 397.3,273.7 397.5,273.9 397.9,273.9 398.1,273.6 398.9,273.6 399.1,273.8 399.6,273.7 399.8,273.8 400.2,273.7 401.6,273.7 401.8,273.2 402.0,272.4 402.3,271.6 402.5,271.5 402.7,272.5 402.9,273.2 403.1,273.5 403.5,273.7 403.7,273.8 404.5,273.7 404.7,273.9 404.9,273.7 407.6,273.8 407.8,273.6 409.9,273.5 410.1,273.7 410.3,273.5 410.5,273.7 410.7,273.6 411.8,273.8 414.5,273.8 416.8,274.0 417.0,273.7 417.6,273.9 417.8,273.7 418.2,273.9 418.4,273.7 419.2,273.9 419.9,273.7 420.5,273.7 420.7,273.9 423.4,273.8 423.6,274.0 424.4,274.1 424.6,273.9 425.7,274.1 426.5,274.1 426.7,273.9 426.9,273.9 427.1,273.6 427.3,273.2 427.5,272.4 427.7,271.9 427.9,272.4 428.2,273.2 428.4,273.6 428.6,273.7 428.8,274.0 429.6,273.8 431.3,274.0 431.9,273.7 432.1,273.9 432.3,273.7 432.5,273.8 432.7,273.9 433.1,273.8 433.7,273.9 434.6,274.0 434.8,273.8 435.2,274.0 437.1,274.1 437.3,273.9 437.7,274.0 437.9,273.9 438.1,274.1 438.5,273.9 439.8,274.0 440.0,273.8 440.2,273.8 440.4,274.0 441.4,273.8 444.1,273.9 444.5,274.0 446.2,274.0 446.4,274.2 449.1,274.2 450.3,274.0 450.5,274.2 450.7,274.0 450.9,274.2 451.1,273.9 451.4,274.1 451.6,273.9 451.8,274.1 452.0,273.8 452.2,273.5 452.4,272.8 452.6,272.5 452.8,272.9 453.0,273.5 453.2,273.7 453.4,273.9 454.7,274.1 455.1,273.9 455.9,274.1 456.3,274.0 456.5,274.2 456.7,274.0 457.0,274.2 457.6,274.1 457.8,274.2 458.2,274.1 458.4,274.3 458.6,274.1 459.2,274.0 459.4,274.3 460.1,274.0 460.3,274.0 460.5,274.2 461.1,274.0 463.2,273.9 463.4,274.1 465.0,274.1" fill="none" stroke="#e8157f" stroke-width="1.6" stroke-linejoin="round"/>
<polyline points="245.4,350.2 245.6,350.4 245.8,350.3 246.0,350.2 246.2,349.8 246.4,349.8 246.6,350.1 246.9,349.7 247.1,350.0 247.3,349.7 247.5,349.9 247.7,349.9 247.9,349.5 248.1,349.7 248.3,349.7 248.5,349.3 248.7,349.3 248.9,349.6 249.1,349.2 249.3,349.4 249.5,349.3 249.8,349.4 250.0,349.0 250.2,349.1 250.4,348.9 250.6,348.9 250.8,349.2 251.6,349.1 251.8,348.9 252.0,348.7 252.2,348.9 252.4,348.6 252.9,348.6 253.1,348.3 253.7,348.3 253.9,348.1 254.1,348.4 254.3,347.9 254.5,348.3 254.7,347.9 254.9,347.8 255.1,348.2 255.3,347.8 255.6,348.0 255.8,347.9 256.0,348.1 256.4,348.1 256.6,347.7 256.8,348.1 257.0,347.8 257.4,347.7 257.6,348.1 258.2,348.0 258.5,348.4 258.7,348.1 259.1,348.2 259.3,348.6 259.5,348.2 259.7,348.7 260.3,348.5 260.5,348.8 260.7,348.6 260.9,348.8 261.1,349.0 261.6,349.1 262.0,349.2 262.2,349.0 262.4,348.9 262.6,349.3 262.8,349.4 263.0,348.9 263.2,349.2 263.6,349.3 263.8,349.1 264.0,349.0 264.3,349.2 264.5,349.2 264.7,349.4 264.9,348.9 265.1,349.3 265.3,349.1 265.5,348.9 265.7,349.2 265.9,348.9 266.5,348.8 266.7,349.2 266.9,349.0 267.2,349.1 267.4,348.8 267.6,349.1 267.8,349.0 268.0,348.7 268.4,348.8 268.6,349.0 269.0,348.9 269.2,349.1 269.6,349.2 269.8,349.4 270.1,349.3 270.3,349.0 270.5,349.1 270.7,349.3 271.1,349.5 271.3,349.7 271.5,349.7 271.7,349.4 271.9,349.4 272.1,349.7 272.3,349.6 273.0,349.7 273.2,349.7 273.4,350.0 273.6,349.8 273.8,350.1 274.2,349.9 274.4,349.9 274.6,350.1 274.8,349.8 275.0,350.0 275.2,350.0 275.4,350.3 275.7,350.1 275.9,350.2 276.1,350.0 276.3,350.2 276.5,350.0 276.9,350.0 277.1,350.3 277.5,350.1 277.7,350.1 277.9,350.3 278.1,350.1 279.0,350.1 279.2,350.3 279.4,350.3 279.6,350.5 279.8,350.2 280.0,350.2 280.2,350.4 280.8,350.4 281.0,350.7 281.2,350.4 281.9,350.6 282.3,350.5 282.7,350.5 282.9,350.9 283.3,350.7 283.5,350.5 283.7,350.7 283.9,350.5 284.1,350.5 284.4,350.8 284.6,350.6 285.0,350.7 285.4,350.6 286.0,350.6 286.2,350.4 286.8,350.3 287.0,350.4 287.3,350.1 287.5,350.5 287.7,350.3 288.3,350.4 288.5,350.1 288.7,350.3 288.9,350.5 289.1,350.2 289.3,350.4 289.5,350.2 289.9,350.2 290.2,350.1 290.4,350.1 290.6,350.4 290.8,350.2 291.0,350.3 291.2,350.4 291.4,350.6 291.6,350.4 291.8,350.4 292.0,350.2 292.4,349.9 292.6,349.6 292.8,349.2 293.1,350.0 293.3,350.4 293.7,350.4 293.9,350.7 294.1,350.4 294.3,350.3 294.5,350.5 294.9,350.4 295.1,350.1 295.3,349.0 295.5,347.3 295.7,344.4 296.0,343.6 296.2,345.8 296.4,348.4 296.6,349.3 296.8,350.0 297.2,350.2 297.4,349.9 297.6,350.1 298.0,350.1 298.2,350.3 298.4,350.0 298.9,350.2 299.1,349.9 299.3,349.9 299.5,350.3 299.7,350.0 299.9,350.2 300.1,349.8 300.3,349.9 300.5,350.2 300.9,350.2 301.1,349.8 301.3,350.2 302.4,350.1 302.6,350.4 302.8,350.1 303.0,350.3 304.2,350.3 304.5,350.0 304.7,350.0 304.9,350.2 305.1,350.0 305.3,349.7 305.5,349.2 305.7,348.8 305.9,347.8 306.1,344.3 306.3,333.1 306.5,313.3 306.7,296.0 306.9,302.7 307.1,323.9 307.4,339.7 307.6,346.1 307.8,348.4 308.0,349.0 308.2,349.0 308.4,349.6 308.6,349.6 308.8,349.4 309.0,349.9 309.2,349.5 309.6,349.7 309.8,349.8 310.0,349.6 310.3,349.5 310.5,349.8 310.7,349.4 310.9,348.9 311.1,348.4 311.3,348.5 311.5,349.2 311.7,349.5 311.9,349.6 312.1,350.1 312.3,350.1 312.5,349.8 312.9,350.0 313.2,350.3 313.4,350.0 313.8,350.0 314.0,350.2 314.2,350.5 314.4,350.2 314.6,350.5 314.8,350.3 315.2,350.3 315.4,350.7 315.6,350.6 315.8,350.3 316.1,350.7 316.3,350.5 316.7,350.7 316.9,350.5 317.1,350.7 317.3,350.7 317.5,350.5 317.9,350.6 318.1,350.3 318.3,350.2 318.5,349.9 318.7,349.9 319.0,348.8 319.2,346.7 319.4,344.0 319.6,342.8 319.8,341.0 320.0,336.3 320.2,331.5 320.4,333.8 320.6,341.5 320.8,346.7 321.0,349.1 321.2,349.6 321.4,350.0 321.6,350.1 321.9,350.3 322.1,350.2 322.3,350.4 322.5,350.2 322.7,350.4 322.9,350.6 323.3,350.5 323.5,350.4 323.7,350.6 323.9,350.4 324.1,350.4 324.3,350.7 324.6,350.5 324.8,350.7 325.0,350.7 325.2,350.5 325.4,350.7 325.6,350.4 325.8,350.6 326.0,350.6 326.2,350.4 326.4,350.8 326.6,350.4 326.8,350.7 327.0,350.7 327.2,350.3 327.5,350.4 327.7,350.6 327.9,350.6 328.1,350.2 328.5,350.2 328.7,350.6 328.9,350.3 329.5,350.4 329.7,350.2 330.4,350.4 330.6,350.1 331.0,350.1 331.2,350.3 331.4,350.1 331.6,350.3 332.2,350.2 332.4,350.4 332.6,350.5 333.3,350.5 333.5,349.8 333.7,349.3 333.9,347.4 334.1,345.5 334.3,344.5 334.5,346.0 334.7,348.2 334.9,349.2 335.1,349.1 335.3,347.5 335.5,341.5 335.7,328.8 335.9,314.7 336.2,314.7 336.4,328.5 336.6,341.6 336.8,347.5 337.0,349.4 337.2,350.1 337.4,350.3 337.8,350.3 338.0,350.6 338.2,350.2 338.4,350.4 338.6,350.1 339.3,350.2 339.5,349.9 339.7,350.2 339.9,349.8 340.1,349.8 340.3,349.1 340.5,347.6 340.7,344.0 340.9,338.5 341.1,336.0 341.3,339.7 341.5,345.0 341.7,347.9 342.0,348.6 342.2,349.2 342.4,349.2 342.6,349.0 342.8,349.0 343.0,348.5 343.2,348.1 343.4,347.3 343.6,343.9 343.8,333.0 344.0,310.3 344.2,285.6 344.4,285.7 344.6,310.4 344.9,333.4 345.1,344.1 345.3,347.2 345.5,348.4 345.7,349.0 345.9,348.9 346.1,348.4 346.3,348.2 346.5,348.5 346.7,349.2 346.9,349.8 347.1,349.7 347.3,350.1 347.5,349.9 347.8,350.4 348.4,350.3 348.6,350.5 349.0,350.4 349.4,350.6 349.6,350.6 349.8,350.1 350.0,350.5 350.2,350.3 350.7,350.3 350.9,350.5 351.3,350.5 351.5,350.3 351.7,350.1 352.1,350.1 352.3,350.4 352.5,350.5 352.7,350.2 354.0,350.0 354.2,350.3 354.4,350.3 354.6,350.1 354.8,350.4 355.4,350.5 355.6,350.1 355.8,350.1 356.0,350.4 356.9,350.5 357.1,350.4 357.3,350.3 357.5,350.5 357.7,350.6 357.9,350.2 358.1,350.6 358.7,350.4 358.9,350.5 359.2,350.3 359.4,350.3 359.6,350.1 359.8,350.2 360.0,350.0 360.8,350.2 361.0,350.0 361.2,350.0 361.4,349.8 361.8,349.9 362.1,350.1 362.3,349.9 362.5,350.1 363.3,350.1 363.5,349.8 363.7,350.0 363.9,350.0 364.1,349.4 364.3,348.1 364.5,344.4 364.7,340.0 365.0,341.8 365.2,346.7 365.4,349.0 365.6,349.7 365.8,350.0 366.0,350.3 366.6,350.1 366.8,349.7 367.0,346.9 367.2,341.8 367.4,340.1 367.6,344.9 367.9,348.6 368.1,350.3 368.3,350.3 368.5,350.6 368.7,350.4 368.9,350.5 369.1,350.9 369.3,350.8 369.5,350.5 369.7,350.7 370.1,350.7 370.3,350.5 370.5,350.4 370.8,350.6 371.0,350.4 371.2,350.6 371.4,350.8 371.6,350.4 371.8,350.6 372.0,350.7 372.2,350.2 372.4,350.7 372.6,350.4 372.8,350.4 373.0,350.2 373.2,350.4 373.9,350.3 374.1,350.0 374.3,349.9 374.5,348.9 374.7,346.9 374.9,342.6 375.1,339.0 375.3,340.1 375.5,344.7 375.7,348.0 375.9,349.6 376.1,350.1 376.4,350.4 376.6,350.1 376.8,350.4 377.0,350.7 377.4,350.7 377.6,350.4 377.8,350.4 378.0,350.7 378.2,350.5 378.4,350.7 378.6,350.6 379.3,350.5 379.5,350.7 379.7,350.9 379.9,350.6 380.1,350.4 380.3,350.2 380.5,349.6 380.7,349.6 380.9,350.2 381.1,350.4 381.9,350.6 382.2,350.3 383.2,350.4 383.4,350.2 383.6,350.4 384.0,350.2 384.6,350.1 384.8,349.5 385.1,348.4 385.3,347.7 385.5,348.2 385.7,349.2 385.9,350.0 386.1,349.9 386.3,350.3 386.5,350.1 386.7,350.5 386.9,350.2 388.6,350.0 388.8,348.7 389.0,345.6 389.2,341.2 389.4,338.1 389.6,341.1 389.8,345.9 390.0,349.0 390.2,349.9 390.4,350.3 390.6,350.0 390.9,349.5 391.1,349.0 391.3,348.9 391.5,349.5 391.7,350.2 391.9,350.2 392.1,350.4 392.3,350.3 392.5,350.5 392.7,350.2 392.9,350.5 393.3,350.4 393.5,350.2 393.8,350.1 394.0,350.4 394.2,350.1 394.4,350.1 394.6,350.3 394.8,350.4 395.0,350.1 395.4,349.9 395.8,350.1 396.2,350.1 396.4,349.9 396.7,350.2 396.9,350.2 397.1,350.0 397.3,349.8 397.5,350.2 397.9,350.3 398.1,350.1 398.3,350.1 398.5,350.3 398.7,350.3 398.9,350.1 399.6,350.1 399.8,350.4 400.0,350.2 400.2,350.0 400.4,349.9 400.6,350.2 400.8,350.0 401.0,350.0 401.2,349.8 401.4,350.0 401.6,349.3 401.8,347.8 402.0,344.9 402.3,341.7 402.5,341.7 402.7,345.0 402.9,348.1 403.1,349.5 403.3,349.7 403.5,350.1 403.7,349.8 404.9,349.8 405.2,350.0 405.4,349.8 405.6,350.3 406.6,350.0 406.8,349.6 407.0,349.1 407.4,349.0 407.6,349.5 407.8,350.1 408.1,350.4 408.3,350.3 408.5,350.4 408.9,350.4 409.1,350.2 409.3,350.3 409.5,350.7 409.7,350.4 409.9,350.5 410.1,350.7 410.3,350.8 410.5,350.6 410.7,350.7 411.0,350.5 411.2,350.4 411.4,350.7 412.0,350.5 412.8,350.6 413.0,350.3 413.2,350.5 413.4,350.7 413.6,350.5 413.9,350.5 414.1,350.2 414.3,350.5 414.5,350.3 414.7,350.1 414.9,349.6 415.1,349.2 415.3,349.6 415.5,350.0 415.7,349.8 415.9,350.3 416.1,350.1 416.3,349.9 416.5,350.3 416.8,349.9 417.0,350.1 417.2,350.3 417.6,350.1 418.0,350.1 418.2,350.4 418.4,350.3 418.6,350.0 418.8,350.3 419.0,350.3 419.2,350.5 419.4,350.4 419.7,350.1 419.9,350.3 420.1,350.4 420.3,350.7 420.5,350.6 420.7,350.4 420.9,350.6 421.1,350.6 421.3,350.4 421.5,350.5 421.7,350.2 421.9,349.8 422.1,348.9 422.3,348.2 422.6,349.2 422.8,349.9 423.0,350.4 423.2,350.5 423.4,350.7 423.6,350.1 423.8,349.6 424.0,348.8 424.2,349.1 424.4,349.5 424.6,350.3 425.0,350.4 425.2,350.8 425.9,350.6 426.1,350.6 426.3,350.4 426.5,350.6 426.7,350.4 426.9,349.9 427.1,349.0 427.3,345.9 427.5,341.0 427.7,338.3 427.9,341.3 428.2,345.7 428.4,347.4 428.6,347.3 428.8,347.1 429.0,348.1 429.2,349.3 429.4,349.7 429.6,350.0 429.8,350.5 430.4,350.5 430.6,350.3 430.8,350.5 431.1,350.3 431.3,350.6 431.5,350.4 431.7,350.2 431.9,350.3 432.1,350.6 432.3,350.6 432.5,350.4 433.3,350.3 433.5,350.1 433.7,350.3 434.0,349.6 434.2,348.8 434.4,347.5 434.6,347.4 434.8,348.8 435.0,349.6 435.2,349.9 435.4,350.4 435.6,350.1 435.8,350.3 436.4,350.1 436.6,350.4 436.9,350.2 437.1,350.4 437.3,350.3 437.5,350.3 437.7,350.5 438.1,350.3 438.5,350.1 438.7,350.3 439.3,350.1 439.8,350.2 440.0,350.5 440.2,350.6 440.4,350.3 440.6,350.7 440.8,350.6 441.4,350.6 441.6,350.4 441.8,350.7 442.2,350.5 442.4,350.8 442.9,350.7 443.1,350.6 443.3,350.8 443.5,350.7 443.7,350.8 444.1,350.7 444.3,350.7 444.5,350.3 444.7,350.6 444.9,350.6 445.1,350.3 445.3,350.3 445.6,350.5 445.8,350.1 446.2,350.3 446.4,350.1 446.8,350.2 447.0,349.9 447.2,350.0 447.4,349.8 447.6,350.1 448.0,350.1 448.2,349.7 448.5,349.8 448.7,350.1 448.9,350.1 449.1,349.7 449.3,349.8 449.5,349.6 449.7,350.1 449.9,349.8 450.1,350.0 450.3,349.7 450.7,349.8 450.9,350.0 451.1,349.7 451.4,350.1 451.6,350.1 451.8,349.7 452.0,349.5 452.2,348.1 452.4,345.6 452.6,344.2 452.8,345.5 453.0,347.9 453.2,349.7 453.4,350.0 453.6,350.0 453.8,350.5 454.1,350.2 454.3,350.5 454.5,350.5 454.7,350.7 454.9,350.3 455.1,350.5 455.3,350.3 455.5,350.5 455.7,350.6 456.1,350.6 456.3,350.2 456.5,350.6 457.2,350.6 457.4,350.4 457.8,350.3 458.0,350.5 458.2,350.5 458.4,350.3 459.0,350.2 459.2,350.0 459.4,350.4 459.9,350.2 460.1,350.2 460.3,350.0 460.5,350.2 460.9,350.3 461.1,350.1 461.3,350.1 461.5,350.4 462.1,350.4 462.3,350.2 462.5,350.5 462.8,350.4 463.2,350.2 463.4,350.7 463.6,350.4 463.8,350.6 464.0,350.7 464.2,350.5 464.6,350.5 464.8,350.8 465.0,350.4" fill="none" stroke="#0a0a0a" stroke-width="1.55" stroke-linejoin="round"/>
<text x="272.2" y="266.5" class="pl" text-anchor="middle">4</text>
<text x="277.0" y="268.5" class="pl" text-anchor="middle">4</text>
<text x="288.3" y="266.4" class="pl" text-anchor="middle">5</text>
<text x="292.6" y="266.4" class="pl" text-anchor="middle">4</text>
<text x="296.3" y="263.0" class="pl" text-anchor="middle">4</text>
<text x="298.6" y="268.5" class="pl" text-anchor="middle">6</text>
<text x="303.3" y="233.5" class="pl" text-anchor="middle">1</text>
<text x="312.0" y="259.5" class="pl" text-anchor="middle">5</text>
<text x="309.4" y="267.5" class="pl" text-anchor="middle">4</text>
<text x="313.8" y="271.6" class="pl" text-anchor="middle">4</text>
<text x="321.4" y="256.0" class="pl" text-anchor="middle">3</text>
<text x="325.5" y="262.0" class="pl" text-anchor="middle">2</text>
<text x="319.3" y="266.4" class="pl" text-anchor="middle">5</text>
<text x="327.5" y="270.3" class="pl" text-anchor="middle">4</text>
<text x="331.3" y="266.4" class="pl" text-anchor="middle">5</text>
<text x="335.3" y="258.3" class="pl" text-anchor="middle">3</text>
<text x="340.3" y="270.3" class="pl" text-anchor="middle">3</text>
<text x="344.0" y="258.3" class="pl" text-anchor="middle">1</text>
<text x="347.6" y="270.3" class="pl" text-anchor="middle">4</text>
<text x="351.5" y="273.0" class="pl" text-anchor="middle">5</text>
<text x="354.5" y="273.0" class="pl" text-anchor="middle">5</text>
<text x="357.5" y="273.0" class="pl" text-anchor="middle">4</text>
<text x="361.5" y="273.0" class="pl" text-anchor="middle">5</text>
<text x="368.4" y="264.5" class="pl" text-anchor="middle">2</text>
<text x="366.2" y="271.0" class="pl" text-anchor="middle">1</text>
<text x="376.3" y="270.6" class="pl" text-anchor="middle">1</text>
<text x="389.3" y="267.5" class="pl" text-anchor="middle">3</text>
<text x="402.8" y="261.0" class="pl" text-anchor="middle">2</text>
<text x="402.8" y="270.3" class="pl" text-anchor="middle">1</text>
<text x="422.0" y="272.3" class="pl" text-anchor="middle">3</text>
<text x="428.0" y="267.5" class="pl" text-anchor="middle">1</text>
<text x="434.0" y="271.6" class="pl" text-anchor="middle">3</text>
<text x="452.4" y="269.2" class="pl" text-anchor="middle">1</text>
<text x="296.0" y="341.0" class="pl" text-anchor="middle">1</text>
<text x="303.0" y="305.6" class="pl" text-anchor="middle">1</text>
<text x="321.3" y="328.2" class="pl" text-anchor="middle">3</text>
<text x="326.3" y="333.7" class="pl" text-anchor="middle">2</text>
<text x="335.5" y="308.6" class="pl" text-anchor="middle">3</text>
<text x="342.0" y="332.0" class="pl" text-anchor="middle">3</text>
<text x="341.7" y="285.0" class="pl" text-anchor="middle">1</text>
<text x="365.4" y="334.0" class="pl" text-anchor="middle">1</text>
<text x="368.5" y="328.2" class="pl" text-anchor="middle">2</text>
<text x="375.5" y="335.0" class="pl" text-anchor="middle">1</text>
<text x="389.5" y="331.5" class="pl" text-anchor="middle">3</text>
<text x="402.8" y="324.7" class="pl" text-anchor="middle">2</text>
<text x="402.8" y="334.5" class="pl" text-anchor="middle">1</text>
<text x="422.0" y="340.5" class="pl" text-anchor="middle">3</text>
<text x="428.0" y="336.0" class="pl" text-anchor="middle">1</text>
<text x="434.5" y="340.5" class="pl" text-anchor="middle">3</text>
<text x="453.0" y="337.4" class="pl" text-anchor="middle">1</text>
<text x="247.6" y="204.9" class="pn" style="font-size:12.8px">(e)</text>
<text x="420" y="311.7" class="pf" style="font-size:7.2px">Pure FLiNaK</text>
<g class="lg"><text x="425.1" y="208.2">1 KF</text><text x="425.1" y="218.3">2 NaF</text><text x="425.1" y="228.2">3 LiF</text><text x="425.1" y="238.3">4 KCrF<tspan class="sb" dy="1.6">3</tspan></text><text x="425.1" y="248.9">5 CrF<tspan class="sb" dy="1.6">3</tspan></text></g>
<path d="M495.0,211.3V369.8H720.0" fill="none" stroke="#8c8c8c" stroke-width="1.4"/>
<path d="M494.7,369.8v3.3M507.9,369.8v1.8M521.2,369.8v3.3M534.4,369.8v1.8M547.6,369.8v3.3M560.9,369.8v1.8M574.1,369.8v3.3M587.4,369.8v1.8M600.6,369.8v3.3M613.8,369.8v1.8M627.1,369.8v3.3M640.3,369.8v1.8M653.5,369.8v3.3M666.8,369.8v1.8M680.0,369.8v3.3M693.3,369.8v1.8M706.5,369.8v3.3M719.7,369.8v1.8M495.0,219.4h-3M495.0,236.0h-1.8M495.0,252.6h-3M495.0,269.2h-1.8M495.0,285.8h-3M495.0,302.4h-1.8M495.0,319.0h-3M495.0,335.6h-1.8M495.0,352.2h-3" stroke="#8c8c8c" stroke-width="1"/>
<text x="494.7" y="381.8" text-anchor="middle" class="tl">10</text>
<text x="521.2" y="381.8" text-anchor="middle" class="tl">20</text>
<text x="547.6" y="381.8" text-anchor="middle" class="tl">30</text>
<text x="574.1" y="381.8" text-anchor="middle" class="tl">40</text>
<text x="600.6" y="381.8" text-anchor="middle" class="tl">50</text>
<text x="627.1" y="381.8" text-anchor="middle" class="tl">60</text>
<text x="653.5" y="381.8" text-anchor="middle" class="tl">70</text>
<text x="680.0" y="381.8" text-anchor="middle" class="tl">80</text>
<text x="706.5" y="381.8" text-anchor="middle" class="tl">90</text>
<text x="602.8" y="396.0" text-anchor="middle" class="tt">2theta / degree</text>
<polyline points="494.7,278.2 496.6,278.4 496.8,278.2 497.5,278.4 498.3,278.3 498.7,278.5 500.6,278.3 500.8,278.6 501.9,278.5 502.1,278.3 502.5,278.5 503.8,278.5 504.0,278.3 504.2,278.3 504.4,278.5 504.7,278.3 504.9,278.5 505.3,278.2 506.3,278.4 506.6,278.2 506.8,278.4 507.2,278.3 507.6,278.2 507.8,278.4 508.0,278.2 508.9,278.4 510.4,278.5 511.2,278.4 511.4,278.6 512.9,278.4 513.1,278.6 513.6,278.4 514.0,278.3 514.2,277.8 514.4,277.2 514.6,277.1 514.8,277.5 515.0,278.1 515.2,278.3 515.5,278.5 517.4,278.3 518.0,278.2 518.2,277.9 518.4,277.7 518.8,277.7 519.1,278.2 519.9,278.1 520.1,278.3 520.3,278.2 520.5,278.0 521.0,278.0 521.2,277.7 521.4,277.2 521.6,275.7 521.8,271.3 522.0,264.5 522.2,260.4 522.4,264.5 522.7,271.3 522.9,275.7 523.1,277.4 523.3,277.8 523.5,278.1 524.6,278.3 524.8,278.3 525.0,278.4 525.2,278.3 525.4,278.5 525.8,278.2 526.0,278.2 526.3,278.0 526.5,277.5 526.7,276.1 526.9,274.6 527.1,274.8 527.3,276.0 527.5,277.3 527.7,278.1 528.2,278.3 528.6,278.3 528.8,278.4 529.0,278.2 529.2,278.2 529.4,278.4 529.6,278.2 529.9,278.4 530.1,278.2 530.3,278.3 530.5,278.1 530.9,278.1 531.1,278.3 531.3,278.3 531.6,278.1 532.2,278.3 532.8,278.3 533.0,278.1 533.9,278.2 534.3,278.2 534.5,278.3 537.1,278.4 538.5,278.3 538.8,278.1 539.0,277.8 539.2,276.8 539.4,273.8 539.6,266.7 539.8,257.2 540.0,254.1 540.2,261.8 540.4,270.8 540.7,275.7 540.9,277.3 541.1,277.8 541.5,278.0 542.1,278.0 542.4,277.8 542.6,277.2 542.8,275.9 543.0,271.7 543.2,265.2 543.4,261.4 543.6,265.2 543.8,271.5 544.0,275.7 544.3,277.1 544.5,277.7 544.9,277.8 545.1,277.6 545.3,277.4 545.5,277.2 545.7,275.7 546.0,272.3 546.2,267.9 546.4,266.4 546.6,269.8 546.8,273.8 547.0,276.0 547.2,276.0 547.4,274.5 547.6,268.5 547.9,255.6 548.1,241.7 548.3,241.5 548.5,255.7 548.7,268.6 548.9,274.6 549.1,276.6 549.3,277.3 549.6,277.5 549.8,277.8 550.4,277.7 550.6,277.4 550.8,276.5 551.0,275.8 551.3,276.0 551.5,277.0 551.7,277.7 551.9,278.0 552.3,278.2 552.5,278.4 553.4,278.4 553.6,278.2 553.8,278.4 554.0,278.2 554.6,278.2 554.9,278.3 555.7,278.2 555.9,277.9 556.1,278.1 556.3,277.9 556.8,277.8 557.0,277.6 557.2,277.4 557.4,276.9 557.6,276.6 557.8,275.5 558.0,272.2 558.2,261.7 558.5,239.8 558.7,215.6 558.9,215.6 559.1,239.7 559.3,261.8 559.5,272.1 559.7,275.3 559.9,276.3 560.1,276.6 560.4,276.8 560.6,276.9 560.8,276.7 561.0,275.2 561.2,271.0 561.4,263.1 561.6,256.5 561.8,258.7 562.1,265.6 562.3,268.0 562.5,263.3 562.7,257.9 562.9,260.7 563.1,268.4 563.3,274.3 563.5,276.7 563.7,277.6 564.0,278.0 564.2,278.1 564.6,278.1 564.8,278.3 565.4,278.3 565.7,277.9 565.9,277.3 566.1,276.5 566.3,276.7 566.5,277.4 566.7,278.1 567.1,278.3 568.4,278.4 568.6,278.2 569.7,278.2 569.9,278.4 570.5,278.2 571.4,278.2 571.6,278.0 572.0,278.1 572.2,277.8 572.4,277.7 572.6,277.5 572.9,276.5 573.1,273.5 573.3,267.0 573.5,259.9 573.7,260.1 573.9,267.2 574.1,273.5 574.3,276.5 574.5,277.5 574.8,277.9 575.0,278.1 575.8,278.3 576.9,278.3 577.1,278.2 577.3,277.5 577.5,277.4 577.7,277.3 577.9,277.9 578.1,278.3 579.2,278.4 579.4,278.2 579.6,278.3 579.8,278.1 580.1,278.1 580.3,277.5 580.5,276.2 580.7,273.4 580.9,270.2 581.1,269.8 581.3,271.7 581.5,272.8 581.7,272.5 582.0,273.5 582.2,275.3 582.4,276.6 582.6,277.1 582.8,276.8 583.0,275.1 583.2,270.2 583.4,262.2 583.7,257.5 583.9,262.1 584.1,270.0 584.3,275.0 584.5,277.0 584.7,277.4 584.9,277.7 585.6,277.9 586.2,277.9 586.4,277.5 586.6,276.7 586.8,275.3 587.0,274.2 587.3,274.4 587.5,276.0 587.7,277.0 587.9,277.2 588.1,276.2 588.3,273.3 588.5,269.4 588.7,268.1 589.0,271.0 589.2,274.0 589.4,273.6 589.6,268.2 589.8,258.8 590.0,253.4 590.2,259.0 590.4,268.7 590.6,274.9 590.9,277.0 591.1,277.8 591.3,278.0 591.7,278.1 591.9,278.3 592.6,278.1 592.8,277.8 593.0,277.2 593.2,275.7 593.4,274.2 593.6,273.4 593.8,271.5 594.0,267.4 594.2,264.6 594.5,267.7 594.7,273.1 594.9,276.3 595.1,277.4 595.3,277.9 595.7,277.9 595.9,278.0 596.4,277.9 596.6,277.7 596.8,277.7 597.0,277.3 597.2,276.4 597.4,272.9 597.6,265.6 597.8,257.7 598.1,257.6 598.3,265.6 598.5,272.9 598.7,276.3 598.9,277.3 599.1,277.4 599.3,277.2 599.5,276.3 599.8,275.7 600.0,276.0 600.2,277.0 600.4,277.7 600.6,278.0 601.2,278.2 602.1,278.2 602.3,278.4 603.1,278.3 603.4,278.5 604.0,278.3 604.2,278.3 604.4,278.5 604.6,278.3 604.8,278.5 607.4,278.3 608.0,278.1 608.2,278.0 608.4,277.7 608.6,277.8 608.9,278.0 609.1,278.2 609.3,278.1 609.5,278.3 611.0,278.1 611.2,277.6 611.4,276.8 611.6,276.0 611.8,276.0 612.0,276.9 612.2,277.8 612.5,278.1 612.7,278.2 612.9,278.4 614.4,278.5 615.4,278.4 615.6,278.1 615.8,277.5 616.1,276.4 616.3,276.3 616.5,276.9 616.7,277.8 616.9,278.3 617.1,278.5 617.5,278.4 617.8,278.7 618.0,278.4 618.8,278.3 619.0,278.2 619.2,277.7 619.5,276.6 619.7,274.5 619.9,272.6 620.1,273.2 620.3,275.5 620.5,277.3 620.7,277.9 620.9,278.2 622.0,278.0 622.2,277.8 622.4,277.1 622.6,276.2 622.8,275.8 623.1,276.2 623.3,277.3 623.5,277.7 623.7,278.0 624.1,278.2 624.7,278.3 625.0,278.1 625.2,278.3 626.9,278.4 627.1,278.2 627.3,278.5 627.7,278.5 627.9,278.3 628.3,278.4 629.6,278.3 629.8,277.9 630.0,277.0 630.3,275.3 630.5,273.8 630.7,274.2 630.9,276.2 631.1,277.5 631.3,278.1 631.5,278.3 631.7,278.5 631.9,278.3 632.2,278.3 632.4,278.5 632.8,278.3 633.2,278.4 633.4,278.2 633.6,278.4 634.5,278.3 635.1,278.2 635.3,278.4 637.9,278.3 639.8,278.2 640.0,277.7 640.2,277.4 640.4,277.4 640.6,277.8 640.8,278.3 641.3,278.5 643.6,278.3 643.8,277.8 644.0,276.8 644.2,274.5 644.4,271.9 644.7,271.9 644.9,274.4 645.1,276.9 645.3,277.9 645.5,278.2 645.9,278.4 646.3,278.4 646.6,278.2 646.8,278.3 647.0,278.5 647.8,278.4 648.0,278.2 648.3,278.3 648.5,278.4 648.7,278.3 648.9,278.4 649.9,278.3 650.4,278.3 650.6,278.4 651.2,278.5 651.4,278.3 651.6,278.5 652.3,278.5 652.5,278.3 653.5,278.3 653.8,277.7 654.0,277.2 654.2,277.3 654.4,277.7 654.6,278.2 654.8,278.4 656.1,278.5 656.3,278.3 656.7,278.4 656.9,278.2 657.2,278.4 657.8,278.3 658.0,278.3 658.2,278.2 659.7,278.0 659.9,277.4 660.3,277.2 660.5,277.8 660.8,278.0 661.0,278.2 661.8,278.2 662.0,278.3 662.2,278.4 662.4,278.2 662.7,278.4 663.3,278.3 663.5,278.5 663.9,278.3 664.1,278.5 664.4,278.5 664.6,278.3 665.0,278.2 665.2,277.9 665.4,277.7 665.6,277.9 665.8,278.2 666.0,278.5 666.7,278.4 666.9,278.6 667.5,278.5 667.7,278.7 668.0,278.5 668.4,278.5 668.6,278.7 668.8,278.5 669.2,278.5 669.4,278.7 670.3,278.5 671.1,278.5 671.3,278.3 672.4,278.4 672.6,278.3 672.8,278.4 673.2,278.2 673.5,278.1 673.7,277.7 673.9,277.4 674.1,277.4 674.3,277.8 674.5,278.1 674.7,278.2 674.9,278.4 675.2,278.2 675.4,278.4 676.4,278.4 676.6,278.2 676.8,278.4 677.3,278.2 677.5,278.4 678.5,278.4 678.8,278.2 679.0,278.2 679.2,277.9 679.4,277.5 679.6,277.4 679.8,277.7 680.0,278.0 680.2,278.2 680.9,278.3 682.6,278.2 683.4,278.2 683.6,278.4 683.8,278.2 684.0,278.3 684.9,278.3 685.1,278.1 685.5,278.2 685.7,278.0 686.0,277.6 686.2,276.3 686.4,274.0 686.6,272.0 686.8,272.7 687.0,275.3 687.2,277.1 687.4,277.9 687.6,278.2 688.1,278.2 688.3,278.4 690.2,278.4 690.4,278.6 690.8,278.5 692.1,278.6 692.3,278.4 692.7,278.3 692.9,278.0 693.2,277.5 693.4,277.5 693.6,277.8 693.8,278.2 694.0,278.5 694.2,278.3 694.4,278.5 694.9,278.5 695.1,278.3 697.6,278.4 697.8,278.2 698.0,278.4 698.2,278.3 698.5,278.4 698.7,278.2 699.3,278.2 699.5,278.5 699.7,278.3 699.9,278.5 700.1,278.3 700.4,278.5 700.6,278.3 700.8,278.1 701.0,277.8 701.2,277.6 701.4,277.9 701.6,278.1 701.8,278.5 702.3,278.4 702.5,278.6 704.2,278.6 704.4,278.4 706.9,278.3 708.2,278.3 708.4,278.2 709.9,278.0 710.1,277.6 710.3,276.9 710.5,276.8 710.7,277.2 710.9,277.8 711.2,278.1 711.6,278.2 711.8,278.3 712.9,278.2 713.1,278.4 713.3,278.4 713.5,278.2 713.7,278.4 713.9,278.3 714.8,278.4 715.2,278.3 715.4,278.5 716.5,278.4 716.7,278.5 716.9,278.4 717.1,278.6 717.9,278.4 719.0,278.6 719.2,278.5" fill="none" stroke="#14c87d" stroke-width="1.8" stroke-linejoin="round"/>
<polyline points="494.7,352.0 494.9,351.7 495.1,351.5 495.5,351.6 495.8,351.3 496.0,351.7 496.2,351.2 496.4,351.5 497.0,351.3 497.2,351.1 497.5,351.3 497.7,351.1 498.3,351.0 498.5,351.3 498.9,351.1 499.1,350.9 499.6,351.0 499.8,350.9 500.2,351.0 500.4,350.7 500.6,350.8 500.8,351.0 501.1,350.8 501.3,350.8 501.5,350.6 501.7,350.7 501.9,350.9 502.1,350.5 502.3,351.0 502.5,350.8 502.7,350.6 503.0,350.9 503.2,350.8 503.4,351.0 503.6,350.7 504.0,350.7 504.2,350.5 504.4,350.8 504.7,350.6 505.3,350.7 505.5,350.5 505.7,350.5 505.9,350.7 506.1,350.6 506.3,350.9 506.6,350.6 506.8,350.6 507.0,350.4 507.2,350.5 507.4,350.8 507.8,350.6 508.0,350.9 508.3,350.7 508.7,350.8 508.9,350.9 509.1,350.5 509.3,350.8 509.7,350.7 509.9,350.4 510.2,350.8 510.4,350.7 510.6,350.6 510.8,350.5 511.2,350.5 511.4,350.8 511.9,350.8 512.1,350.5 512.3,350.5 512.5,350.9 513.6,350.7 513.8,350.9 514.0,351.1 514.2,350.9 514.6,350.8 514.8,350.7 515.0,350.8 515.7,350.9 515.9,351.2 516.1,350.9 516.7,351.0 516.9,351.2 517.2,351.2 517.4,351.4 517.6,351.2 517.8,351.5 518.6,351.5 518.8,351.7 519.7,351.6 519.9,351.8 520.1,351.5 520.3,351.6 520.5,351.9 521.4,352.0 521.6,351.7 521.8,351.6 522.0,351.9 522.2,351.9 522.4,352.2 523.1,352.1 523.3,351.9 523.5,352.2 523.7,352.3 523.9,351.9 524.1,352.1 524.4,352.3 524.6,352.1 524.8,352.4 525.0,352.2 525.2,352.0 525.6,352.1 525.8,352.4 526.3,352.4 526.5,352.1 526.9,352.1 527.1,352.4 527.3,352.4 527.5,352.1 528.6,352.2 528.8,352.4 529.2,352.3 529.4,352.5 530.1,352.4 530.3,352.2 530.5,352.0 530.7,352.3 530.9,352.0 531.3,352.0 531.6,352.3 532.4,352.3 532.6,352.1 533.0,352.0 533.2,352.2 533.7,352.0 533.9,352.4 534.1,352.1 535.2,352.3 535.4,352.0 535.6,352.2 535.8,352.0 536.0,351.9 536.2,352.2 536.4,352.1 536.6,351.9 536.8,352.0 537.1,352.3 537.5,352.3 537.7,351.9 537.9,351.9 538.1,352.3 538.3,351.9 538.5,351.9 538.8,352.0 539.0,352.2 539.2,352.1 539.4,352.3 539.6,352.4 539.8,351.9 540.0,352.0 540.2,352.1 540.4,351.9 540.7,352.2 540.9,351.9 541.1,352.0 541.3,352.3 541.9,352.3 542.1,352.1 542.4,352.2 542.6,352.0 542.8,351.8 543.0,351.0 543.2,351.1 543.4,351.4 543.6,351.8 543.8,351.9 544.0,352.2 544.3,352.0 544.5,352.2 544.9,352.1 545.1,352.4 545.3,352.1 545.5,352.0 545.7,351.3 546.0,349.1 546.2,346.9 546.4,345.9 546.6,347.8 546.8,350.3 547.0,351.7 547.2,352.0 547.6,352.1 547.9,352.4 548.1,352.2 548.3,352.4 548.5,352.4 548.7,352.2 549.6,352.2 549.8,352.4 551.3,352.4 551.5,352.1 552.1,352.1 552.3,352.5 552.5,352.3 552.7,352.1 552.9,352.2 553.2,352.5 553.4,352.5 553.6,352.4 553.8,352.5 554.2,352.5 554.4,352.2 554.9,352.0 555.1,352.3 555.3,352.0 555.7,352.1 555.9,351.5 556.1,351.2 556.3,351.2 556.5,349.8 556.8,346.4 557.0,335.9 557.2,316.3 557.4,299.9 557.6,306.7 557.8,327.1 558.0,342.3 558.2,348.8 558.5,350.8 558.7,351.4 558.9,351.5 559.1,352.1 559.3,351.9 559.5,352.1 559.7,352.4 560.1,352.2 560.4,352.3 560.6,352.5 560.8,352.1 561.2,352.0 561.4,352.2 561.6,351.7 561.8,351.3 562.1,350.9 562.3,351.7 562.5,352.2 562.7,352.3 562.9,352.2 563.1,352.2 563.3,352.5 563.5,352.6 563.7,352.2 564.0,352.4 564.2,352.3 564.4,352.6 564.6,352.7 564.8,352.3 565.0,352.5 565.2,352.6 565.4,352.2 565.9,352.3 566.1,352.6 566.3,352.2 566.5,352.6 566.7,352.2 566.9,352.4 567.3,352.4 567.6,352.2 567.8,352.5 568.0,352.6 568.2,352.3 568.6,352.5 569.3,352.3 569.5,352.1 569.7,351.8 569.9,350.6 570.1,348.8 570.3,346.2 570.5,345.1 570.7,343.5 570.9,338.9 571.2,334.0 571.4,336.7 571.6,343.5 571.8,348.9 572.0,351.3 572.2,351.8 572.4,351.8 572.6,352.4 572.9,352.1 573.1,352.3 573.5,352.2 573.7,352.4 574.3,352.2 574.5,352.5 574.8,352.3 575.4,352.5 575.8,352.7 576.2,352.7 576.5,352.3 576.7,352.6 577.1,352.7 577.3,352.3 577.7,352.4 577.9,352.5 578.8,352.6 579.0,352.4 579.2,352.5 579.4,352.2 579.6,352.1 579.8,352.3 580.1,352.5 580.3,352.1 580.5,352.4 580.7,352.4 580.9,352.5 581.1,352.3 581.7,352.4 582.0,352.2 582.2,352.4 582.6,352.3 582.8,352.2 583.0,352.3 583.2,352.3 583.4,352.1 583.7,352.2 583.9,351.9 584.1,351.9 584.3,351.7 584.5,351.7 584.7,351.4 584.9,350.6 585.1,349.1 585.4,346.9 585.6,345.8 585.8,347.8 586.0,349.5 586.2,350.4 586.4,350.5 586.6,348.4 586.8,342.6 587.0,330.5 587.3,316.9 587.5,316.9 587.7,330.8 587.9,342.8 588.1,348.7 588.3,350.4 588.5,351.0 588.7,351.2 589.0,351.4 589.2,351.4 589.4,351.6 589.6,351.6 589.8,351.9 590.6,352.0 590.9,351.6 591.5,351.5 591.7,351.1 591.9,349.7 592.1,346.4 592.3,340.7 592.6,338.2 592.8,342.1 593.0,347.2 593.2,350.1 593.4,351.4 593.6,351.4 593.8,351.6 594.0,351.7 594.2,351.5 594.5,351.0 594.7,350.9 594.9,349.6 595.1,346.2 595.3,336.2 595.5,314.4 595.7,290.3 595.9,290.2 596.2,314.3 596.4,336.2 596.6,346.5 596.8,350.1 597.0,351.1 597.2,351.4 597.4,351.2 597.6,351.2 597.8,350.7 598.1,351.1 598.3,351.6 598.5,352.1 598.9,352.3 599.1,352.3 599.3,352.6 600.0,352.5 600.2,352.7 600.4,352.4 600.6,352.7 600.8,352.3 601.0,352.3 601.2,352.8 601.4,352.6 601.7,352.4 601.9,352.3 602.1,352.6 602.5,352.7 602.7,352.3 602.9,352.7 603.1,352.5 603.4,352.7 603.6,352.5 603.8,352.3 604.0,352.7 604.2,352.4 604.4,352.5 604.6,352.3 604.8,352.4 605.0,352.6 605.3,352.3 605.5,352.5 605.7,352.7 605.9,352.7 606.1,352.4 607.2,352.5 607.4,352.2 607.6,352.6 607.8,352.2 608.0,352.2 608.2,352.5 608.4,352.1 608.9,352.1 609.1,352.4 609.5,352.4 609.7,352.1 609.9,352.3 610.6,352.4 611.0,352.5 611.2,352.2 611.4,352.4 611.6,352.1 611.8,352.5 612.2,352.3 612.5,352.5 612.7,352.4 612.9,352.1 613.5,352.3 613.9,352.2 614.2,352.4 614.4,352.3 614.6,352.6 614.8,352.3 615.0,352.4 615.2,352.2 615.6,352.4 615.8,352.4 616.1,351.7 616.3,350.7 616.5,346.7 616.7,342.5 616.9,344.3 617.1,348.8 617.3,351.2 617.5,352.2 617.8,352.2 618.0,352.4 618.6,352.3 618.8,351.6 619.0,349.1 619.2,344.0 619.5,342.5 619.7,346.9 619.9,350.4 620.1,351.7 620.3,352.3 620.5,352.5 621.8,352.6 622.0,352.4 622.2,352.2 622.4,352.3 622.6,352.5 623.9,352.5 624.1,352.1 624.3,352.5 624.5,352.3 625.0,352.1 625.2,352.3 625.8,352.1 626.0,352.1 626.2,351.7 626.4,351.5 626.7,350.7 626.9,348.9 627.1,344.8 627.3,340.9 627.5,342.2 627.7,346.8 627.9,349.9 628.1,351.6 628.3,351.8 629.2,351.7 629.4,352.1 629.8,352.2 630.0,352.0 630.5,351.8 630.9,352.0 631.1,351.9 631.3,352.1 631.5,352.0 631.7,352.3 631.9,351.9 632.2,352.1 632.4,351.6 632.6,351.4 632.8,351.1 633.0,351.2 633.2,351.6 633.4,351.8 633.6,351.9 633.9,352.3 634.1,352.4 634.3,352.1 634.9,352.4 635.1,352.2 635.3,352.5 635.8,352.3 636.0,352.0 636.2,352.2 636.4,352.1 636.6,352.3 636.8,352.3 637.0,352.1 637.2,351.2 637.5,350.4 637.7,350.1 637.9,350.8 638.1,351.5 638.3,352.0 638.5,352.4 638.7,352.5 638.9,352.3 639.1,352.2 639.4,352.6 639.6,352.7 639.8,352.5 640.2,352.3 640.4,352.5 640.6,352.2 640.8,352.1 641.1,351.9 641.3,351.0 641.5,347.8 641.7,343.5 641.9,340.6 642.1,343.6 642.3,348.1 642.5,350.7 642.7,352.0 643.0,352.0 643.2,352.1 643.4,351.9 643.6,351.4 643.8,351.1 644.0,351.5 644.2,351.9 644.4,352.6 644.9,352.7 645.1,352.3 645.3,352.7 645.7,352.8 645.9,352.6 646.1,352.4 647.0,352.3 647.2,352.6 647.4,352.7 647.6,352.3 647.8,352.4 648.0,352.7 648.3,352.4 648.9,352.6 649.7,352.5 649.9,352.2 650.2,352.6 650.4,352.2 650.6,352.6 650.8,352.5 651.0,352.2 651.2,352.2 651.4,352.4 651.6,352.6 651.9,352.4 652.1,352.4 652.3,352.1 652.5,352.5 652.7,352.4 652.9,352.1 653.1,352.5 653.3,352.3 653.5,352.1 653.8,352.1 654.0,352.4 654.2,352.2 654.4,351.8 654.6,349.9 654.8,347.3 655.0,343.8 655.2,343.8 655.5,347.3 655.7,350.3 655.9,351.3 656.1,351.9 656.3,352.3 656.5,352.1 656.7,352.3 656.9,352.4 657.2,352.5 657.4,352.2 657.6,352.1 657.8,352.3 658.0,352.1 658.2,352.6 658.6,352.4 658.8,352.1 659.1,352.1 659.3,352.4 659.5,352.4 659.7,352.0 659.9,351.4 660.1,350.8 660.3,351.3 660.5,351.6 660.8,352.0 661.2,352.2 661.4,352.3 661.6,352.5 662.0,352.5 662.2,352.3 662.4,352.6 662.7,352.6 662.9,352.3 663.1,352.6 663.5,352.7 663.7,352.4 663.9,352.5 664.1,352.2 664.6,352.2 664.8,352.5 665.2,352.6 665.4,352.4 666.9,352.3 667.3,352.2 667.5,352.4 667.7,351.8 668.0,351.8 668.2,351.6 668.4,351.9 668.6,352.0 668.8,352.4 669.4,352.5 669.6,352.1 670.1,352.4 670.3,352.4 670.5,352.1 670.7,352.3 670.9,352.4 671.1,352.1 671.3,352.2 671.6,352.0 671.8,352.5 672.0,352.3 672.2,352.1 672.6,352.0 672.8,352.5 673.5,352.4 673.7,352.0 673.9,352.2 674.1,352.0 674.3,352.2 674.5,351.9 674.7,352.1 674.9,351.9 675.2,350.9 675.4,349.9 675.6,350.0 675.8,350.5 676.0,351.4 676.2,352.0 676.6,352.1 676.8,351.8 677.1,351.2 677.3,350.3 677.5,350.3 677.7,351.2 677.9,351.9 678.3,352.0 678.5,352.3 679.0,352.3 679.2,352.0 679.4,352.1 679.6,352.3 679.8,352.2 680.0,351.9 680.2,351.6 680.4,350.5 680.7,347.9 680.9,343.5 681.1,340.5 681.3,343.2 681.5,347.5 681.7,349.6 681.9,349.2 682.1,349.2 682.4,349.8 682.6,351.1 682.8,351.8 683.2,352.0 683.4,352.3 683.6,352.4 683.8,352.2 684.0,352.5 684.3,352.6 684.5,352.2 684.7,352.4 684.9,352.3 685.1,352.5 685.3,352.2 685.5,352.5 685.7,352.6 686.0,352.7 686.2,352.4 686.6,352.3 686.8,352.7 687.0,352.4 687.2,352.4 687.4,351.8 687.6,351.1 687.9,350.0 688.1,349.9 688.3,350.7 688.5,352.1 688.7,352.3 689.1,352.3 689.3,352.7 689.6,352.8 689.8,352.4 690.0,352.4 690.2,352.6 690.4,352.8 690.6,352.4 690.8,352.7 691.0,352.4 691.5,352.5 691.7,352.8 691.9,352.5 692.1,352.8 692.3,352.7 692.5,352.4 692.7,352.5 692.9,352.8 693.6,352.6 694.0,352.8 694.2,352.7 694.4,352.5 694.6,352.4 694.9,352.8 695.1,352.5 695.3,352.4 695.5,352.8 695.7,352.4 695.9,352.7 696.1,352.5 696.5,352.4 696.8,352.6 697.2,352.4 698.0,352.5 698.2,352.6 698.5,352.3 698.9,352.5 699.1,352.2 699.3,352.2 699.5,352.4 699.7,352.5 699.9,352.3 700.1,352.5 700.4,352.5 700.6,352.3 700.8,352.5 701.0,352.3 701.2,352.3 701.4,352.5 701.6,352.2 701.8,352.5 702.1,352.1 702.5,352.2 702.7,352.5 702.9,352.2 703.1,352.3 703.3,352.0 703.5,352.4 703.7,352.0 704.4,352.0 704.6,352.3 704.8,351.9 705.0,352.2 705.2,351.9 705.4,351.9 705.7,352.1 705.9,351.3 706.1,349.8 706.3,348.0 706.5,346.6 706.7,347.7 706.9,350.2 707.1,351.2 707.3,352.1 707.6,352.0 707.8,352.4 708.0,352.2 708.2,352.1 708.4,352.4 709.0,352.4 709.3,352.6 709.7,352.5 709.9,352.2 710.3,352.2 710.5,352.6 710.7,352.3 710.9,352.6 711.2,352.4 711.6,352.5 711.8,352.2 712.0,352.4 712.4,352.3 712.6,352.6 712.9,352.2 713.1,352.4 713.3,352.5 713.5,352.3 713.7,352.6 713.9,352.2 714.1,352.4 714.3,352.5 714.5,352.3 714.8,352.5 715.0,352.6 715.2,352.3 715.4,352.7 715.6,352.3 715.8,352.6 716.0,352.4 716.2,352.2 716.5,352.4 716.7,352.3 716.9,352.5 717.5,352.6 717.7,352.3 718.1,352.4 718.4,352.2 718.6,352.5 718.8,352.5 719.0,352.3 719.2,352.6" fill="none" stroke="#0a0a0a" stroke-width="1.55" stroke-linejoin="round"/>
<text x="520.3" y="254.5" class="pl" text-anchor="middle">8</text>
<text x="514.7" y="263.0" class="pl" text-anchor="middle">8</text>
<text x="514.7" y="270.9" class="pl" text-anchor="middle">4</text>
<text x="520.3" y="270.9" class="pl" text-anchor="middle">5</text>
<text x="523.3" y="261.3" class="pl" text-anchor="middle">4</text>
<text x="527.8" y="263.8" class="pl" text-anchor="middle">4</text>
<text x="541.0" y="249.9" class="pl" text-anchor="middle">10</text>
<text x="546.3" y="249.9" class="pl" text-anchor="middle">8</text>
<text x="538.6" y="258.6" class="pl" text-anchor="middle">4</text>
<text x="543.6" y="258.6" class="pl" text-anchor="middle">4</text>
<text x="547.7" y="257.0" class="pl" text-anchor="middle">1</text>
<text x="550.0" y="258.6" class="pl" text-anchor="middle">4</text>
<text x="552.0" y="263.7" class="pl" text-anchor="middle">5</text>
<text x="556.7" y="240.4" class="pl" text-anchor="middle">1</text>
<text x="556.7" y="247.2" class="pl" text-anchor="middle">2</text>
<text x="564.3" y="241.5" class="pl" text-anchor="middle">10</text>
<text x="563.5" y="256.0" class="pl" text-anchor="middle">4</text>
<text x="565.8" y="264.6" class="pl" text-anchor="middle">5</text>
<text x="569.3" y="262.0" class="pl" text-anchor="middle">5</text>
<text x="572.3" y="252.8" class="pl" text-anchor="middle">3</text>
<text x="576.6" y="257.4" class="pl" text-anchor="middle">2</text>
<text x="581.6" y="252.5" class="pl" text-anchor="middle">9</text>
<text x="581.0" y="260.6" class="pl" text-anchor="middle">4</text>
<text x="584.6" y="258.6" class="pl" text-anchor="middle">4</text>
<text x="587.6" y="262.0" class="pl" text-anchor="middle">4</text>
<text x="593.8" y="241.4" class="pl" text-anchor="middle">10</text>
<text x="591.0" y="246.9" class="pl" text-anchor="middle">3</text>
<text x="599.9" y="250.5" class="pl" text-anchor="middle">1</text>
<text x="594.6" y="258.8" class="pl" text-anchor="middle">1</text>
<text x="596.3" y="264.6" class="pl" text-anchor="middle">9</text>
<text x="602.7" y="262.8" class="pl" text-anchor="middle">5</text>
<text x="609.3" y="269.2" class="pl" text-anchor="middle">4</text>
<text x="614.2" y="266.7" class="pl" text-anchor="middle">4</text>
<text x="619.6" y="262.8" class="pl" text-anchor="middle">1</text>
<text x="622.0" y="264.6" class="pl" text-anchor="middle">2</text>
<text x="624.0" y="270.5" class="pl" text-anchor="middle">5</text>
<text x="630.8" y="263.5" class="pl" text-anchor="middle">1</text>
<text x="641.4" y="270.5" class="pl" text-anchor="middle">5</text>
<text x="644.4" y="259.3" class="pl" text-anchor="middle">4</text>
<text x="644.4" y="265.5" class="pl" text-anchor="middle">3</text>
<text x="659.4" y="258.4" class="pl" text-anchor="middle">2</text>
<text x="659.4" y="268.0" class="pl" text-anchor="middle">1</text>
<text x="655.7" y="276.0" class="pl" text-anchor="middle">8</text>
<text x="664.7" y="276.0" class="pl" text-anchor="middle">5</text>
<text x="672.2" y="274.7" class="pl" text-anchor="middle">5</text>
<text x="677.2" y="276.5" class="pl" text-anchor="middle">8</text>
<text x="679.7" y="269.7" class="pl" text-anchor="middle">3</text>
<text x="686.0" y="266.0" class="pl" text-anchor="middle">1</text>
<text x="692.3" y="269.7" class="pl" text-anchor="middle">3</text>
<text x="696.5" y="272.7" class="pl" text-anchor="middle">9</text>
<text x="706.5" y="277.7" class="pl" text-anchor="middle">5</text>
<text x="712.0" y="267.2" class="pl" text-anchor="middle">1</text>
<text x="546.5" y="343.3" class="pl" text-anchor="middle">1</text>
<text x="554.0" y="309.3" class="pl" text-anchor="middle">1</text>
<text x="572.0" y="330.3" class="pl" text-anchor="middle">3</text>
<text x="576.0" y="336.0" class="pl" text-anchor="middle">2</text>
<text x="587.0" y="312.5" class="pl" text-anchor="middle">3</text>
<text x="593.5" y="336.3" class="pl" text-anchor="middle">3</text>
<text x="617.2" y="336.3" class="pl" text-anchor="middle">1</text>
<text x="620.2" y="330.3" class="pl" text-anchor="middle">2</text>
<text x="627.6" y="336.3" class="pl" text-anchor="middle">1</text>
<text x="641.6" y="333.5" class="pl" text-anchor="middle">3</text>
<text x="655.8" y="327.5" class="pl" text-anchor="middle">2</text>
<text x="655.8" y="336.0" class="pl" text-anchor="middle">1</text>
<text x="675.3" y="342.0" class="pl" text-anchor="middle">3</text>
<text x="681.3" y="338.0" class="pl" text-anchor="middle">1</text>
<text x="687.3" y="342.0" class="pl" text-anchor="middle">3</text>
<text x="706.0" y="339.0" class="pl" text-anchor="middle">1</text>
<text x="490.6" y="207.2" class="pn" style="font-size:12.8px">(f)</text>
<text x="674" y="314.9" class="pf" style="font-size:7.3px">Pure FLiNaK</text>
<g class="lg"><text x="641.6" y="200.0">1 KF</text><text x="641.6" y="209.7">2 NaF</text><text x="641.6" y="219.4">3 LiF</text><text x="641.6" y="229.0">4 KF 2H<tspan class="sb" dy="1.6">2</tspan><tspan dy="-1.6">O</tspan></text><text x="641.6" y="239.3">5 K<tspan class="sb" dy="1.6">2</tspan><tspan dy="-1.6">NaCrF</tspan><tspan class="sb" dy="1.6">6</tspan></text><text x="679.6" y="200.0">6 Cr<tspan class="sb" dy="1.6">3</tspan><tspan dy="-1.6">Pt</tspan></text><text x="679.6" y="209.7">7 CrPt</text><text x="679.6" y="219.4">8 K<tspan class="sb" dy="1.6">3</tspan><tspan dy="-1.6">CrF</tspan><tspan class="sb" dy="1.6">6</tspan></text><text x="679.6" y="229.0">9 KCrF<tspan class="sb" dy="1.6">3</tspan></text><text x="679.6" y="239.3">10 Li<tspan class="sb" dy="1.6">2</tspan><tspan dy="-1.6">CrF</tspan><tspan class="sb" dy="1.6">6</tspan></text></g>
</svg>
</body></html>
